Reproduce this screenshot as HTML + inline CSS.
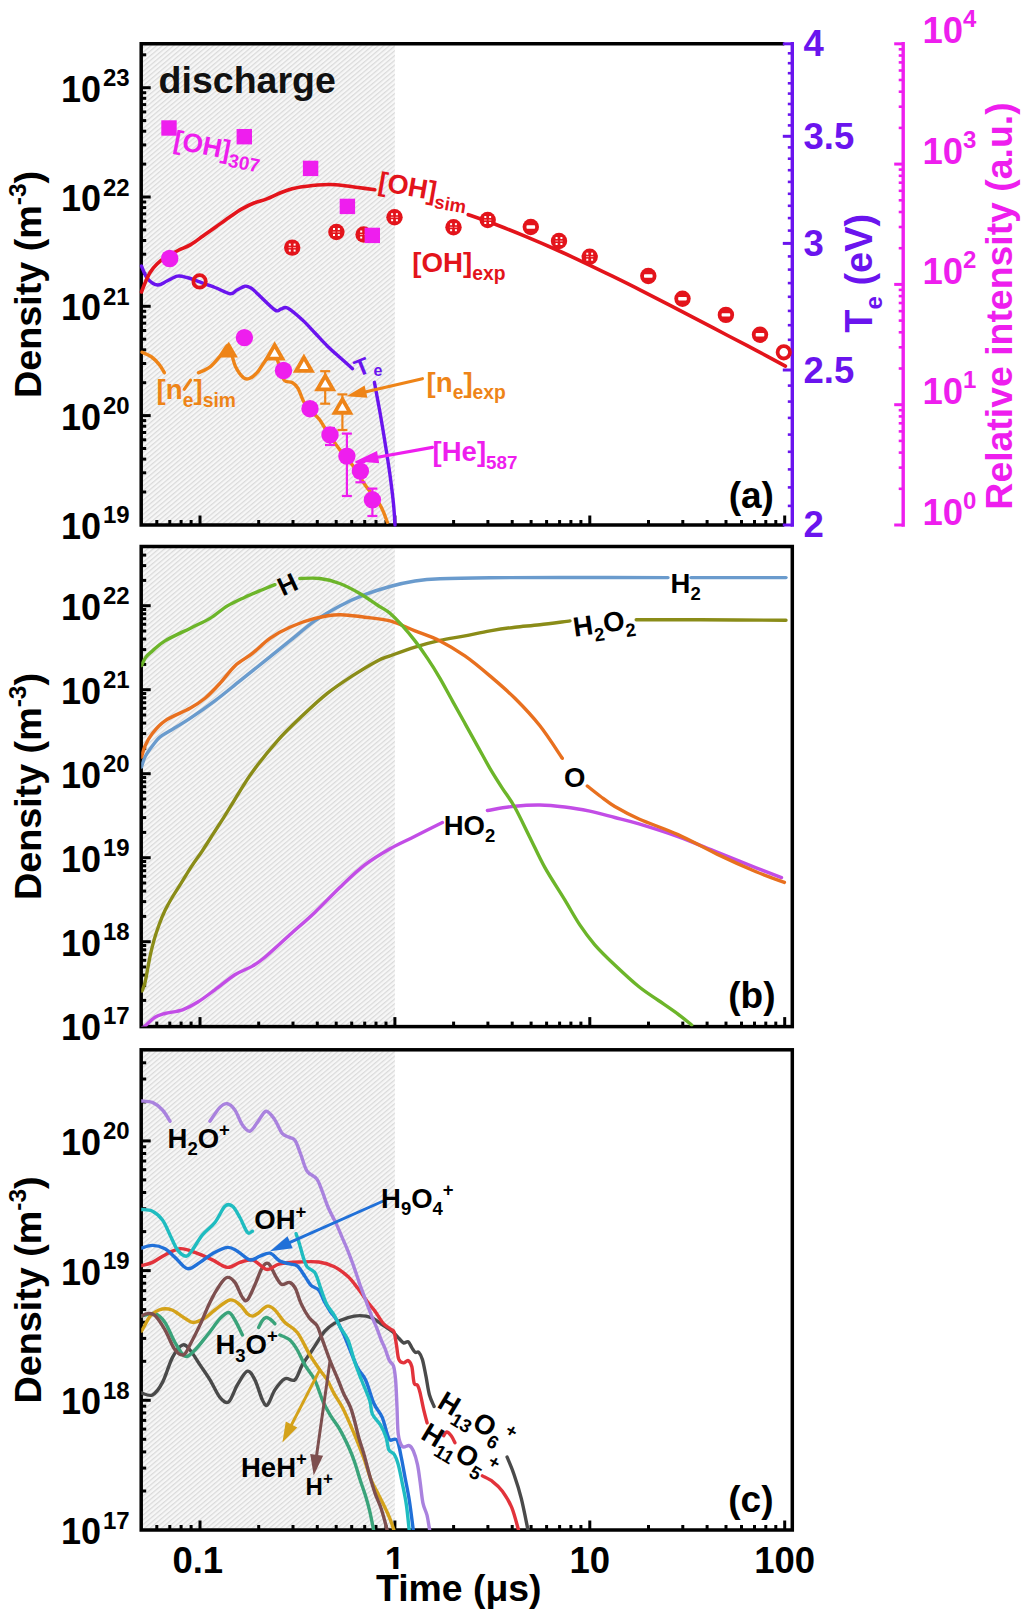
<!DOCTYPE html>
<html><head><meta charset="utf-8"><style>html,body{margin:0;padding:0;background:#fff;}svg{display:block;}</style></head>
<body><svg width="1025" height="1616" viewBox="0 0 1025 1616">
<rect x="0" y="0" width="1025" height="1616" fill="#fff"/>
<defs>
<pattern id="hatch" patternUnits="userSpaceOnUse" width="3.65" height="3.65" patternTransform="rotate(-40)">
<rect x="0" y="0" width="3.65" height="3.65" fill="#f7f7f7"/>
<rect x="0" y="0" width="3.65" height="1.25" fill="#dadada"/>
</pattern>
</defs>
<rect x="141.2" y="43.8" width="253.7" height="481.2" fill="url(#hatch)"/>
<rect x="141.2" y="546.5" width="253.7" height="480.1" fill="url(#hatch)"/>
<rect x="141.2" y="1049.8" width="253.7" height="480.2" fill="url(#hatch)"/>
<path d="M784.3,43.8 L141.2,43.8 L141.2,525.0 L784.3,525.0" fill="none" stroke="#000" stroke-width="3.5"/>
<line x1="156.8" y1="525.0" x2="156.8" y2="520.0" stroke="#000" stroke-width="3.0" stroke-linecap="butt"/>
<line x1="169.8" y1="525.0" x2="169.8" y2="520.0" stroke="#000" stroke-width="3.0" stroke-linecap="butt"/>
<line x1="181.1" y1="525.0" x2="181.1" y2="520.0" stroke="#000" stroke-width="3.0" stroke-linecap="butt"/>
<line x1="191.1" y1="525.0" x2="191.1" y2="520.0" stroke="#000" stroke-width="3.0" stroke-linecap="butt"/>
<line x1="200.0" y1="525.0" x2="200.0" y2="515.5" stroke="#000" stroke-width="3.0" stroke-linecap="butt"/>
<line x1="258.7" y1="525.0" x2="258.7" y2="520.0" stroke="#000" stroke-width="3.0" stroke-linecap="butt"/>
<line x1="293.0" y1="525.0" x2="293.0" y2="520.0" stroke="#000" stroke-width="3.0" stroke-linecap="butt"/>
<line x1="317.3" y1="525.0" x2="317.3" y2="520.0" stroke="#000" stroke-width="3.0" stroke-linecap="butt"/>
<line x1="336.2" y1="525.0" x2="336.2" y2="520.0" stroke="#000" stroke-width="3.0" stroke-linecap="butt"/>
<line x1="351.7" y1="525.0" x2="351.7" y2="520.0" stroke="#000" stroke-width="3.0" stroke-linecap="butt"/>
<line x1="364.7" y1="525.0" x2="364.7" y2="520.0" stroke="#000" stroke-width="3.0" stroke-linecap="butt"/>
<line x1="376.0" y1="525.0" x2="376.0" y2="520.0" stroke="#000" stroke-width="3.0" stroke-linecap="butt"/>
<line x1="386.0" y1="525.0" x2="386.0" y2="520.0" stroke="#000" stroke-width="3.0" stroke-linecap="butt"/>
<line x1="394.9" y1="525.0" x2="394.9" y2="515.5" stroke="#000" stroke-width="3.0" stroke-linecap="butt"/>
<line x1="453.6" y1="525.0" x2="453.6" y2="520.0" stroke="#000" stroke-width="3.0" stroke-linecap="butt"/>
<line x1="487.9" y1="525.0" x2="487.9" y2="520.0" stroke="#000" stroke-width="3.0" stroke-linecap="butt"/>
<line x1="512.2" y1="525.0" x2="512.2" y2="520.0" stroke="#000" stroke-width="3.0" stroke-linecap="butt"/>
<line x1="531.1" y1="525.0" x2="531.1" y2="520.0" stroke="#000" stroke-width="3.0" stroke-linecap="butt"/>
<line x1="546.6" y1="525.0" x2="546.6" y2="520.0" stroke="#000" stroke-width="3.0" stroke-linecap="butt"/>
<line x1="559.6" y1="525.0" x2="559.6" y2="520.0" stroke="#000" stroke-width="3.0" stroke-linecap="butt"/>
<line x1="570.9" y1="525.0" x2="570.9" y2="520.0" stroke="#000" stroke-width="3.0" stroke-linecap="butt"/>
<line x1="580.9" y1="525.0" x2="580.9" y2="520.0" stroke="#000" stroke-width="3.0" stroke-linecap="butt"/>
<line x1="589.8" y1="525.0" x2="589.8" y2="515.5" stroke="#000" stroke-width="3.0" stroke-linecap="butt"/>
<line x1="648.5" y1="525.0" x2="648.5" y2="520.0" stroke="#000" stroke-width="3.0" stroke-linecap="butt"/>
<line x1="682.8" y1="525.0" x2="682.8" y2="520.0" stroke="#000" stroke-width="3.0" stroke-linecap="butt"/>
<line x1="707.1" y1="525.0" x2="707.1" y2="520.0" stroke="#000" stroke-width="3.0" stroke-linecap="butt"/>
<line x1="726.0" y1="525.0" x2="726.0" y2="520.0" stroke="#000" stroke-width="3.0" stroke-linecap="butt"/>
<line x1="741.5" y1="525.0" x2="741.5" y2="520.0" stroke="#000" stroke-width="3.0" stroke-linecap="butt"/>
<line x1="754.5" y1="525.0" x2="754.5" y2="520.0" stroke="#000" stroke-width="3.0" stroke-linecap="butt"/>
<line x1="765.8" y1="525.0" x2="765.8" y2="520.0" stroke="#000" stroke-width="3.0" stroke-linecap="butt"/>
<line x1="775.8" y1="525.0" x2="775.8" y2="520.0" stroke="#000" stroke-width="3.0" stroke-linecap="butt"/>
<line x1="784.7" y1="525.0" x2="784.7" y2="515.5" stroke="#000" stroke-width="3.0" stroke-linecap="butt"/>
<line x1="141.2" y1="492.0" x2="146.2" y2="492.0" stroke="#000" stroke-width="3.0" stroke-linecap="butt"/>
<line x1="141.2" y1="472.8" x2="146.2" y2="472.8" stroke="#000" stroke-width="3.0" stroke-linecap="butt"/>
<line x1="141.2" y1="459.1" x2="146.2" y2="459.1" stroke="#000" stroke-width="3.0" stroke-linecap="butt"/>
<line x1="141.2" y1="448.5" x2="146.2" y2="448.5" stroke="#000" stroke-width="3.0" stroke-linecap="butt"/>
<line x1="141.2" y1="439.8" x2="146.2" y2="439.8" stroke="#000" stroke-width="3.0" stroke-linecap="butt"/>
<line x1="141.2" y1="432.5" x2="146.2" y2="432.5" stroke="#000" stroke-width="3.0" stroke-linecap="butt"/>
<line x1="141.2" y1="426.2" x2="146.2" y2="426.2" stroke="#000" stroke-width="3.0" stroke-linecap="butt"/>
<line x1="141.2" y1="420.6" x2="146.2" y2="420.6" stroke="#000" stroke-width="3.0" stroke-linecap="butt"/>
<line x1="141.2" y1="415.6" x2="150.7" y2="415.6" stroke="#000" stroke-width="3.0" stroke-linecap="butt"/>
<line x1="141.2" y1="382.7" x2="146.2" y2="382.7" stroke="#000" stroke-width="3.0" stroke-linecap="butt"/>
<line x1="141.2" y1="363.5" x2="146.2" y2="363.5" stroke="#000" stroke-width="3.0" stroke-linecap="butt"/>
<line x1="141.2" y1="349.8" x2="146.2" y2="349.8" stroke="#000" stroke-width="3.0" stroke-linecap="butt"/>
<line x1="141.2" y1="339.2" x2="146.2" y2="339.2" stroke="#000" stroke-width="3.0" stroke-linecap="butt"/>
<line x1="141.2" y1="330.5" x2="146.2" y2="330.5" stroke="#000" stroke-width="3.0" stroke-linecap="butt"/>
<line x1="141.2" y1="323.2" x2="146.2" y2="323.2" stroke="#000" stroke-width="3.0" stroke-linecap="butt"/>
<line x1="141.2" y1="316.9" x2="146.2" y2="316.9" stroke="#000" stroke-width="3.0" stroke-linecap="butt"/>
<line x1="141.2" y1="311.3" x2="146.2" y2="311.3" stroke="#000" stroke-width="3.0" stroke-linecap="butt"/>
<line x1="141.2" y1="306.3" x2="150.7" y2="306.3" stroke="#000" stroke-width="3.0" stroke-linecap="butt"/>
<line x1="141.2" y1="273.4" x2="146.2" y2="273.4" stroke="#000" stroke-width="3.0" stroke-linecap="butt"/>
<line x1="141.2" y1="254.2" x2="146.2" y2="254.2" stroke="#000" stroke-width="3.0" stroke-linecap="butt"/>
<line x1="141.2" y1="240.5" x2="146.2" y2="240.5" stroke="#000" stroke-width="3.0" stroke-linecap="butt"/>
<line x1="141.2" y1="229.9" x2="146.2" y2="229.9" stroke="#000" stroke-width="3.0" stroke-linecap="butt"/>
<line x1="141.2" y1="221.2" x2="146.2" y2="221.2" stroke="#000" stroke-width="3.0" stroke-linecap="butt"/>
<line x1="141.2" y1="213.9" x2="146.2" y2="213.9" stroke="#000" stroke-width="3.0" stroke-linecap="butt"/>
<line x1="141.2" y1="207.6" x2="146.2" y2="207.6" stroke="#000" stroke-width="3.0" stroke-linecap="butt"/>
<line x1="141.2" y1="202.0" x2="146.2" y2="202.0" stroke="#000" stroke-width="3.0" stroke-linecap="butt"/>
<line x1="141.2" y1="197.0" x2="150.7" y2="197.0" stroke="#000" stroke-width="3.0" stroke-linecap="butt"/>
<line x1="141.2" y1="164.1" x2="146.2" y2="164.1" stroke="#000" stroke-width="3.0" stroke-linecap="butt"/>
<line x1="141.2" y1="144.9" x2="146.2" y2="144.9" stroke="#000" stroke-width="3.0" stroke-linecap="butt"/>
<line x1="141.2" y1="131.2" x2="146.2" y2="131.2" stroke="#000" stroke-width="3.0" stroke-linecap="butt"/>
<line x1="141.2" y1="120.6" x2="146.2" y2="120.6" stroke="#000" stroke-width="3.0" stroke-linecap="butt"/>
<line x1="141.2" y1="111.9" x2="146.2" y2="111.9" stroke="#000" stroke-width="3.0" stroke-linecap="butt"/>
<line x1="141.2" y1="104.6" x2="146.2" y2="104.6" stroke="#000" stroke-width="3.0" stroke-linecap="butt"/>
<line x1="141.2" y1="98.3" x2="146.2" y2="98.3" stroke="#000" stroke-width="3.0" stroke-linecap="butt"/>
<line x1="141.2" y1="92.7" x2="146.2" y2="92.7" stroke="#000" stroke-width="3.0" stroke-linecap="butt"/>
<line x1="141.2" y1="87.7" x2="150.7" y2="87.7" stroke="#000" stroke-width="3.0" stroke-linecap="butt"/>
<line x1="141.2" y1="54.8" x2="146.2" y2="54.8" stroke="#000" stroke-width="3.0" stroke-linecap="butt"/>
<line x1="792.3" y1="42.1" x2="792.3" y2="526.7" stroke="#6a14ee" stroke-width="3.4" stroke-linecap="butt"/>
<line x1="792.3" y1="43.8" x2="782.8" y2="43.8" stroke="#6a14ee" stroke-width="3.0" stroke-linecap="butt"/>
<line x1="792.3" y1="136.3" x2="782.8" y2="136.3" stroke="#6a14ee" stroke-width="3.0" stroke-linecap="butt"/>
<line x1="792.3" y1="243.4" x2="782.8" y2="243.4" stroke="#6a14ee" stroke-width="3.0" stroke-linecap="butt"/>
<line x1="792.3" y1="370.0" x2="782.8" y2="370.0" stroke="#6a14ee" stroke-width="3.0" stroke-linecap="butt"/>
<line x1="792.3" y1="525.0" x2="782.8" y2="525.0" stroke="#6a14ee" stroke-width="3.0" stroke-linecap="butt"/>
<line x1="792.3" y1="53.3" x2="787.8" y2="53.3" stroke="#6a14ee" stroke-width="2.6" stroke-linecap="butt"/>
<line x1="792.3" y1="63.2" x2="787.8" y2="63.2" stroke="#6a14ee" stroke-width="2.6" stroke-linecap="butt"/>
<line x1="792.3" y1="73.2" x2="787.8" y2="73.2" stroke="#6a14ee" stroke-width="2.6" stroke-linecap="butt"/>
<line x1="792.3" y1="83.3" x2="787.8" y2="83.3" stroke="#6a14ee" stroke-width="2.6" stroke-linecap="butt"/>
<line x1="792.3" y1="93.6" x2="787.8" y2="93.6" stroke="#6a14ee" stroke-width="2.6" stroke-linecap="butt"/>
<line x1="792.3" y1="104.0" x2="787.8" y2="104.0" stroke="#6a14ee" stroke-width="2.6" stroke-linecap="butt"/>
<line x1="792.3" y1="114.6" x2="787.8" y2="114.6" stroke="#6a14ee" stroke-width="2.6" stroke-linecap="butt"/>
<line x1="792.3" y1="125.4" x2="787.8" y2="125.4" stroke="#6a14ee" stroke-width="2.6" stroke-linecap="butt"/>
<line x1="792.3" y1="147.4" x2="787.8" y2="147.4" stroke="#6a14ee" stroke-width="2.6" stroke-linecap="butt"/>
<line x1="792.3" y1="158.7" x2="787.8" y2="158.7" stroke="#6a14ee" stroke-width="2.6" stroke-linecap="butt"/>
<line x1="792.3" y1="170.2" x2="787.8" y2="170.2" stroke="#6a14ee" stroke-width="2.6" stroke-linecap="butt"/>
<line x1="792.3" y1="181.9" x2="787.8" y2="181.9" stroke="#6a14ee" stroke-width="2.6" stroke-linecap="butt"/>
<line x1="792.3" y1="193.8" x2="787.8" y2="193.8" stroke="#6a14ee" stroke-width="2.6" stroke-linecap="butt"/>
<line x1="792.3" y1="205.8" x2="787.8" y2="205.8" stroke="#6a14ee" stroke-width="2.6" stroke-linecap="butt"/>
<line x1="792.3" y1="218.1" x2="787.8" y2="218.1" stroke="#6a14ee" stroke-width="2.6" stroke-linecap="butt"/>
<line x1="792.3" y1="230.6" x2="787.8" y2="230.6" stroke="#6a14ee" stroke-width="2.6" stroke-linecap="butt"/>
<line x1="792.3" y1="256.4" x2="787.8" y2="256.4" stroke="#6a14ee" stroke-width="2.6" stroke-linecap="butt"/>
<line x1="792.3" y1="269.6" x2="787.8" y2="269.6" stroke="#6a14ee" stroke-width="2.6" stroke-linecap="butt"/>
<line x1="792.3" y1="283.1" x2="787.8" y2="283.1" stroke="#6a14ee" stroke-width="2.6" stroke-linecap="butt"/>
<line x1="792.3" y1="296.8" x2="787.8" y2="296.8" stroke="#6a14ee" stroke-width="2.6" stroke-linecap="butt"/>
<line x1="792.3" y1="310.9" x2="787.8" y2="310.9" stroke="#6a14ee" stroke-width="2.6" stroke-linecap="butt"/>
<line x1="792.3" y1="325.2" x2="787.8" y2="325.2" stroke="#6a14ee" stroke-width="2.6" stroke-linecap="butt"/>
<line x1="792.3" y1="339.8" x2="787.8" y2="339.8" stroke="#6a14ee" stroke-width="2.6" stroke-linecap="butt"/>
<line x1="792.3" y1="354.7" x2="787.8" y2="354.7" stroke="#6a14ee" stroke-width="2.6" stroke-linecap="butt"/>
<line x1="792.3" y1="385.6" x2="787.8" y2="385.6" stroke="#6a14ee" stroke-width="2.6" stroke-linecap="butt"/>
<line x1="792.3" y1="401.6" x2="787.8" y2="401.6" stroke="#6a14ee" stroke-width="2.6" stroke-linecap="butt"/>
<line x1="792.3" y1="417.9" x2="787.8" y2="417.9" stroke="#6a14ee" stroke-width="2.6" stroke-linecap="butt"/>
<line x1="792.3" y1="434.6" x2="787.8" y2="434.6" stroke="#6a14ee" stroke-width="2.6" stroke-linecap="butt"/>
<line x1="792.3" y1="451.8" x2="787.8" y2="451.8" stroke="#6a14ee" stroke-width="2.6" stroke-linecap="butt"/>
<line x1="792.3" y1="469.4" x2="787.8" y2="469.4" stroke="#6a14ee" stroke-width="2.6" stroke-linecap="butt"/>
<line x1="792.3" y1="487.4" x2="787.8" y2="487.4" stroke="#6a14ee" stroke-width="2.6" stroke-linecap="butt"/>
<line x1="792.3" y1="505.9" x2="787.8" y2="505.9" stroke="#6a14ee" stroke-width="2.6" stroke-linecap="butt"/>
<line x1="903.2" y1="42.1" x2="903.2" y2="526.7" stroke="#ee1eee" stroke-width="3.4" stroke-linecap="butt"/>
<line x1="903.2" y1="525.0" x2="894.2" y2="525.0" stroke="#ee1eee" stroke-width="3.0" stroke-linecap="butt"/>
<line x1="903.2" y1="488.8" x2="898.7" y2="488.8" stroke="#ee1eee" stroke-width="2.6" stroke-linecap="butt"/>
<line x1="903.2" y1="467.6" x2="898.7" y2="467.6" stroke="#ee1eee" stroke-width="2.6" stroke-linecap="butt"/>
<line x1="903.2" y1="452.6" x2="898.7" y2="452.6" stroke="#ee1eee" stroke-width="2.6" stroke-linecap="butt"/>
<line x1="903.2" y1="440.9" x2="898.7" y2="440.9" stroke="#ee1eee" stroke-width="2.6" stroke-linecap="butt"/>
<line x1="903.2" y1="431.4" x2="898.7" y2="431.4" stroke="#ee1eee" stroke-width="2.6" stroke-linecap="butt"/>
<line x1="903.2" y1="423.3" x2="898.7" y2="423.3" stroke="#ee1eee" stroke-width="2.6" stroke-linecap="butt"/>
<line x1="903.2" y1="416.4" x2="898.7" y2="416.4" stroke="#ee1eee" stroke-width="2.6" stroke-linecap="butt"/>
<line x1="903.2" y1="410.2" x2="898.7" y2="410.2" stroke="#ee1eee" stroke-width="2.6" stroke-linecap="butt"/>
<line x1="903.2" y1="404.7" x2="894.2" y2="404.7" stroke="#ee1eee" stroke-width="3.0" stroke-linecap="butt"/>
<line x1="903.2" y1="368.5" x2="898.7" y2="368.5" stroke="#ee1eee" stroke-width="2.6" stroke-linecap="butt"/>
<line x1="903.2" y1="347.3" x2="898.7" y2="347.3" stroke="#ee1eee" stroke-width="2.6" stroke-linecap="butt"/>
<line x1="903.2" y1="332.3" x2="898.7" y2="332.3" stroke="#ee1eee" stroke-width="2.6" stroke-linecap="butt"/>
<line x1="903.2" y1="320.6" x2="898.7" y2="320.6" stroke="#ee1eee" stroke-width="2.6" stroke-linecap="butt"/>
<line x1="903.2" y1="311.1" x2="898.7" y2="311.1" stroke="#ee1eee" stroke-width="2.6" stroke-linecap="butt"/>
<line x1="903.2" y1="303.0" x2="898.7" y2="303.0" stroke="#ee1eee" stroke-width="2.6" stroke-linecap="butt"/>
<line x1="903.2" y1="296.1" x2="898.7" y2="296.1" stroke="#ee1eee" stroke-width="2.6" stroke-linecap="butt"/>
<line x1="903.2" y1="289.9" x2="898.7" y2="289.9" stroke="#ee1eee" stroke-width="2.6" stroke-linecap="butt"/>
<line x1="903.2" y1="284.4" x2="894.2" y2="284.4" stroke="#ee1eee" stroke-width="3.0" stroke-linecap="butt"/>
<line x1="903.2" y1="248.2" x2="898.7" y2="248.2" stroke="#ee1eee" stroke-width="2.6" stroke-linecap="butt"/>
<line x1="903.2" y1="227.0" x2="898.7" y2="227.0" stroke="#ee1eee" stroke-width="2.6" stroke-linecap="butt"/>
<line x1="903.2" y1="212.0" x2="898.7" y2="212.0" stroke="#ee1eee" stroke-width="2.6" stroke-linecap="butt"/>
<line x1="903.2" y1="200.3" x2="898.7" y2="200.3" stroke="#ee1eee" stroke-width="2.6" stroke-linecap="butt"/>
<line x1="903.2" y1="190.8" x2="898.7" y2="190.8" stroke="#ee1eee" stroke-width="2.6" stroke-linecap="butt"/>
<line x1="903.2" y1="182.7" x2="898.7" y2="182.7" stroke="#ee1eee" stroke-width="2.6" stroke-linecap="butt"/>
<line x1="903.2" y1="175.8" x2="898.7" y2="175.8" stroke="#ee1eee" stroke-width="2.6" stroke-linecap="butt"/>
<line x1="903.2" y1="169.6" x2="898.7" y2="169.6" stroke="#ee1eee" stroke-width="2.6" stroke-linecap="butt"/>
<line x1="903.2" y1="164.1" x2="894.2" y2="164.1" stroke="#ee1eee" stroke-width="3.0" stroke-linecap="butt"/>
<line x1="903.2" y1="127.9" x2="898.7" y2="127.9" stroke="#ee1eee" stroke-width="2.6" stroke-linecap="butt"/>
<line x1="903.2" y1="106.7" x2="898.7" y2="106.7" stroke="#ee1eee" stroke-width="2.6" stroke-linecap="butt"/>
<line x1="903.2" y1="91.7" x2="898.7" y2="91.7" stroke="#ee1eee" stroke-width="2.6" stroke-linecap="butt"/>
<line x1="903.2" y1="80.0" x2="898.7" y2="80.0" stroke="#ee1eee" stroke-width="2.6" stroke-linecap="butt"/>
<line x1="903.2" y1="70.5" x2="898.7" y2="70.5" stroke="#ee1eee" stroke-width="2.6" stroke-linecap="butt"/>
<line x1="903.2" y1="62.4" x2="898.7" y2="62.4" stroke="#ee1eee" stroke-width="2.6" stroke-linecap="butt"/>
<line x1="903.2" y1="55.5" x2="898.7" y2="55.5" stroke="#ee1eee" stroke-width="2.6" stroke-linecap="butt"/>
<line x1="903.2" y1="49.3" x2="898.7" y2="49.3" stroke="#ee1eee" stroke-width="2.6" stroke-linecap="butt"/>
<line x1="903.2" y1="43.8" x2="894.2" y2="43.8" stroke="#ee1eee" stroke-width="3.0" stroke-linecap="butt"/>
<text x="60.9" y="538.9" font-size="36" font-family="Liberation Sans, sans-serif" font-weight="bold" fill="#000">10</text>
<text x="102.9" y="523.4" font-size="24" font-family="Liberation Sans, sans-serif" font-weight="bold" fill="#000">19</text>
<text x="60.9" y="429.6" font-size="36" font-family="Liberation Sans, sans-serif" font-weight="bold" fill="#000">10</text>
<text x="102.9" y="414.1" font-size="24" font-family="Liberation Sans, sans-serif" font-weight="bold" fill="#000">20</text>
<text x="60.9" y="320.3" font-size="36" font-family="Liberation Sans, sans-serif" font-weight="bold" fill="#000">10</text>
<text x="102.9" y="304.8" font-size="24" font-family="Liberation Sans, sans-serif" font-weight="bold" fill="#000">21</text>
<text x="60.9" y="211.0" font-size="36" font-family="Liberation Sans, sans-serif" font-weight="bold" fill="#000">10</text>
<text x="102.9" y="195.5" font-size="24" font-family="Liberation Sans, sans-serif" font-weight="bold" fill="#000">22</text>
<text x="60.9" y="101.7" font-size="36" font-family="Liberation Sans, sans-serif" font-weight="bold" fill="#000">10</text>
<text x="102.9" y="86.2" font-size="24" font-family="Liberation Sans, sans-serif" font-weight="bold" fill="#000">23</text>
<text x="803.5" y="56.1" font-size="36.5" fill="#6a14ee" text-anchor="start" font-family="Liberation Sans, sans-serif" font-weight="bold" >4</text>
<text x="803.5" y="148.8" font-size="36.5" fill="#6a14ee" text-anchor="start" font-family="Liberation Sans, sans-serif" font-weight="bold" >3.5</text>
<text x="803.5" y="255.9" font-size="36.5" fill="#6a14ee" text-anchor="start" font-family="Liberation Sans, sans-serif" font-weight="bold" >3</text>
<text x="803.5" y="382.5" font-size="36.5" fill="#6a14ee" text-anchor="start" font-family="Liberation Sans, sans-serif" font-weight="bold" >2.5</text>
<text x="803.5" y="537.4" font-size="36.5" fill="#6a14ee" text-anchor="start" font-family="Liberation Sans, sans-serif" font-weight="bold" >2</text>
<text x="922.5" y="524.5" font-size="36.5" font-family="Liberation Sans, sans-serif" font-weight="bold" fill="#ee1eee">10<tspan font-size="24" dy="-16">0</tspan></text>
<text x="922.5" y="404.2" font-size="36.5" font-family="Liberation Sans, sans-serif" font-weight="bold" fill="#ee1eee">10<tspan font-size="24" dy="-16">1</tspan></text>
<text x="922.5" y="283.9" font-size="36.5" font-family="Liberation Sans, sans-serif" font-weight="bold" fill="#ee1eee">10<tspan font-size="24" dy="-16">2</tspan></text>
<text x="922.5" y="163.6" font-size="36.5" font-family="Liberation Sans, sans-serif" font-weight="bold" fill="#ee1eee">10<tspan font-size="24" dy="-16">3</tspan></text>
<text x="922.5" y="43.3" font-size="36.5" font-family="Liberation Sans, sans-serif" font-weight="bold" fill="#ee1eee">10<tspan font-size="24" dy="-16">4</tspan></text>
<text transform="translate(872.4,273.2) rotate(-90)" text-anchor="middle" font-size="38" font-family="Liberation Sans, sans-serif" font-weight="bold" fill="#6a14ee">T<tspan font-size="24" dy="9.5">e</tspan><tspan dy="-9.5"> (eV)</tspan></text>
<text transform="translate(1012,306) rotate(-90)" text-anchor="middle" font-size="37.4" font-family="Liberation Sans, sans-serif" font-weight="bold" fill="#ee1eee">Relative intensity (a.u.)</text>
<text x="158.6" y="92.6" font-family="Liberation Sans, sans-serif" font-weight="bold" fill="#111"><tspan font-size="37.5">discharge</tspan></text>
<path d="M141.5,266.0 C142.5,268.1 144.8,275.5 147.5,278.7 C150.2,281.9 154.2,284.6 157.5,285.0 C160.8,285.4 163.7,282.5 167.0,281.0 C170.3,279.5 174.2,276.8 177.5,276.2 C180.8,275.6 183.7,276.7 187.0,277.5 C190.3,278.3 192.8,279.5 197.5,281.2 C202.2,282.9 209.6,285.4 215.0,287.5 C220.4,289.6 226.3,293.3 230.0,293.7 C233.7,294.1 234.5,291.2 237.0,290.0 C239.5,288.8 242.7,286.5 245.0,286.2 C247.3,285.9 248.9,286.8 251.0,288.0 C253.1,289.2 253.5,290.0 257.5,293.7 C261.5,297.4 271.1,307.4 275.0,310.0 C278.9,312.6 278.9,309.3 281.0,309.0 C283.1,308.7 283.9,306.2 287.5,308.0 C291.1,309.8 297.9,315.8 302.5,320.0 C307.1,324.2 310.8,328.6 315.0,333.0 C319.2,337.4 323.3,342.1 327.5,346.2 C331.7,350.3 335.8,353.8 340.0,357.5 C344.2,361.2 350.4,366.8 352.5,368.7" fill="none" stroke="#6a14ee" stroke-width="3.4" stroke-linejoin="round" stroke-linecap="round" />
<path d="M374.4,382.3 C375.3,387.3 378.2,402.5 380.0,412.5 C381.8,422.5 383.3,432.0 385.0,442.4 C386.7,452.8 388.6,464.6 390.0,475.0 C391.4,485.4 392.8,496.7 393.6,505.0 C394.4,513.3 394.8,521.7 395.0,525.0" fill="none" stroke="#6a14ee" stroke-width="3.4" stroke-linejoin="round" stroke-linecap="round" />
<path d="M141.5,292.0 C142.1,290.5 143.6,286.2 145.0,283.0 C146.4,279.8 148.1,275.7 150.1,272.5 C152.1,269.3 154.4,266.5 157.0,264.0 C159.6,261.5 161.9,259.6 165.4,257.3 C168.9,255.1 173.8,252.6 178.0,250.5 C182.2,248.4 186.5,247.0 190.7,244.6 C194.9,242.2 198.8,239.0 203.0,236.0 C207.2,233.0 211.8,229.9 216.1,226.8 C220.4,223.7 224.8,220.4 229.0,217.5 C233.2,214.6 237.3,211.5 241.5,209.1 C245.7,206.7 249.8,204.7 254.0,203.0 C258.2,201.3 262.5,200.6 266.8,198.9 C271.1,197.2 275.8,194.7 280.0,193.0 C284.2,191.3 288.0,189.9 292.2,188.8 C296.4,187.7 300.8,187.1 305.0,186.5 C309.2,185.9 313.4,185.3 317.6,185.0 C321.8,184.7 325.8,184.4 330.0,184.5 C334.2,184.6 338.2,185.0 342.9,185.5 C347.6,186.0 352.7,186.8 358.0,187.5 C363.3,188.2 372.0,189.4 374.8,189.8" fill="none" stroke="#e3141b" stroke-width="3.6" stroke-linejoin="round" stroke-linecap="round" />
<path d="M468.3,214.7 C473.1,216.4 487.5,221.3 497.1,225.0 C506.7,228.7 516.4,232.6 526.0,236.6 C535.6,240.6 545.2,244.7 554.8,249.0 C564.4,253.3 574.0,257.8 583.6,262.3 C593.2,266.8 602.8,271.5 612.4,276.2 C622.0,280.9 631.7,285.7 641.3,290.6 C650.9,295.5 660.5,300.4 670.1,305.4 C679.7,310.4 689.3,315.4 698.9,320.4 C708.5,325.4 718.1,330.5 727.7,335.5 C737.3,340.5 747.0,345.5 756.6,350.6 C766.2,355.7 780.6,363.6 785.4,366.2" fill="none" stroke="#e3141b" stroke-width="3.6" stroke-linejoin="round" stroke-linecap="round" />
<path d="M142.0,352.2 C143.6,353.0 148.8,354.9 151.7,357.0 C154.6,359.1 157.4,362.3 159.5,364.9 C161.6,367.5 163.6,371.4 164.4,372.7" fill="none" stroke="#ee8418" stroke-width="3.4" stroke-linejoin="round" stroke-linecap="round" />
<path d="M198.5,372.7 C200.4,371.7 206.6,369.6 210.2,366.8 C213.8,364.0 217.1,359.7 220.0,356.1 C222.9,352.5 226.0,346.1 227.8,345.4 C229.6,344.7 229.7,348.4 231.0,352.0 C232.3,355.6 233.5,362.5 235.6,366.8 C237.7,371.1 241.1,375.7 243.4,377.6 C245.7,379.6 247.0,379.3 249.3,378.5 C251.6,377.7 254.2,375.9 257.1,372.7 C260.0,369.4 263.9,361.9 266.8,359.0 C269.7,356.1 272.3,353.5 274.6,355.1 C276.9,356.7 278.9,364.6 280.5,368.8 C282.1,373.0 282.4,378.2 284.4,380.5 C286.3,382.8 289.9,381.1 292.2,382.4 C294.5,383.7 296.1,385.0 298.0,388.3 C299.9,391.6 301.9,398.4 303.9,402.0 C305.9,405.6 307.2,406.9 309.8,409.8 C312.4,412.7 316.6,415.7 319.5,419.5 C322.4,423.3 324.1,427.3 327.5,432.4 C330.9,437.5 335.9,444.6 340.0,450.0 C344.1,455.4 348.2,459.1 352.4,464.9 C356.6,470.7 360.4,478.1 365.0,484.8 C369.6,491.5 376.3,498.6 380.0,504.8 C383.7,511.1 386.2,519.4 387.4,522.3" fill="none" stroke="#ee8418" stroke-width="3.4" stroke-linejoin="round" stroke-linecap="round" />
<line x1="184.2" y1="389.3" x2="190.6" y2="380.2" stroke="#ee8418" stroke-width="3.2" stroke-linecap="round"/>
<circle cx="199.6" cy="281.4" r="6.2" fill="none" stroke="#e3141b" stroke-width="3.8"/>
<circle cx="292.2" cy="247.6" r="8.2" fill="#e3141b"/>
<rect x="288.8" y="243.6" width="2.0" height="2.0" fill="#fff"/>
<rect x="288.8" y="249.6" width="2.0" height="2.0" fill="#fff"/>
<rect x="288.5" y="247.2" width="2.8" height="0.9" fill="#fbb"/>
<rect x="293.6" y="243.6" width="2.0" height="2.0" fill="#fff"/>
<rect x="293.6" y="249.6" width="2.0" height="2.0" fill="#fff"/>
<rect x="293.1" y="247.2" width="2.8" height="0.9" fill="#fbb"/>
<circle cx="336.4" cy="232" r="8.2" fill="#e3141b"/>
<rect x="333.0" y="228.0" width="2.0" height="2.0" fill="#fff"/>
<rect x="333.0" y="234.0" width="2.0" height="2.0" fill="#fff"/>
<rect x="332.7" y="231.6" width="2.8" height="0.9" fill="#fbb"/>
<rect x="337.8" y="228.0" width="2.0" height="2.0" fill="#fff"/>
<rect x="337.8" y="234.0" width="2.0" height="2.0" fill="#fff"/>
<rect x="337.3" y="231.6" width="2.8" height="0.9" fill="#fbb"/>
<circle cx="363.6" cy="234.5" r="8.2" fill="#e3141b"/>
<rect x="360.2" y="230.5" width="2.0" height="2.0" fill="#fff"/>
<rect x="360.2" y="236.5" width="2.0" height="2.0" fill="#fff"/>
<rect x="359.9" y="234.1" width="2.8" height="0.9" fill="#fbb"/>
<rect x="365.0" y="230.5" width="2.0" height="2.0" fill="#fff"/>
<rect x="365.0" y="236.5" width="2.0" height="2.0" fill="#fff"/>
<rect x="364.5" y="234.1" width="2.8" height="0.9" fill="#fbb"/>
<circle cx="394.5" cy="217.2" r="8.2" fill="#e3141b"/>
<rect x="391.1" y="213.2" width="2.0" height="2.0" fill="#fff"/>
<rect x="391.1" y="219.2" width="2.0" height="2.0" fill="#fff"/>
<rect x="390.8" y="216.8" width="2.8" height="0.9" fill="#fbb"/>
<rect x="395.9" y="213.2" width="2.0" height="2.0" fill="#fff"/>
<rect x="395.9" y="219.2" width="2.0" height="2.0" fill="#fff"/>
<rect x="395.4" y="216.8" width="2.8" height="0.9" fill="#fbb"/>
<circle cx="453.5" cy="227.2" r="8.2" fill="#e3141b"/>
<rect x="450.1" y="223.2" width="2.0" height="2.0" fill="#fff"/>
<rect x="450.1" y="229.2" width="2.0" height="2.0" fill="#fff"/>
<rect x="449.8" y="226.8" width="2.8" height="0.9" fill="#fbb"/>
<rect x="454.9" y="223.2" width="2.0" height="2.0" fill="#fff"/>
<rect x="454.9" y="229.2" width="2.0" height="2.0" fill="#fff"/>
<rect x="454.4" y="226.8" width="2.8" height="0.9" fill="#fbb"/>
<circle cx="487.7" cy="220" r="8.2" fill="#e3141b"/>
<rect x="484.3" y="216.0" width="2.0" height="2.0" fill="#fff"/>
<rect x="484.3" y="222.0" width="2.0" height="2.0" fill="#fff"/>
<rect x="484.0" y="219.6" width="2.8" height="0.9" fill="#fbb"/>
<rect x="489.1" y="216.0" width="2.0" height="2.0" fill="#fff"/>
<rect x="489.1" y="222.0" width="2.0" height="2.0" fill="#fff"/>
<rect x="488.6" y="219.6" width="2.8" height="0.9" fill="#fbb"/>
<circle cx="530.8" cy="227" r="8.2" fill="#e3141b"/>
<rect x="526.5" y="225.3" width="8.6" height="3.4" rx="0.8" fill="#fff"/>
<circle cx="559" cy="241" r="8.2" fill="#e3141b"/>
<rect x="555.6" y="237.0" width="2.0" height="2.0" fill="#fff"/>
<rect x="555.6" y="243.0" width="2.0" height="2.0" fill="#fff"/>
<rect x="555.3" y="240.6" width="2.8" height="0.9" fill="#fbb"/>
<rect x="560.4" y="237.0" width="2.0" height="2.0" fill="#fff"/>
<rect x="560.4" y="243.0" width="2.0" height="2.0" fill="#fff"/>
<rect x="559.9" y="240.6" width="2.8" height="0.9" fill="#fbb"/>
<circle cx="589.7" cy="256.7" r="8.2" fill="#e3141b"/>
<rect x="586.3" y="252.7" width="2.0" height="2.0" fill="#fff"/>
<rect x="586.3" y="258.7" width="2.0" height="2.0" fill="#fff"/>
<rect x="586.0" y="256.2" width="2.8" height="0.9" fill="#fbb"/>
<rect x="591.1" y="252.7" width="2.0" height="2.0" fill="#fff"/>
<rect x="591.1" y="258.7" width="2.0" height="2.0" fill="#fff"/>
<rect x="590.6" y="256.2" width="2.8" height="0.9" fill="#fbb"/>
<circle cx="648.3" cy="276" r="8.2" fill="#e3141b"/>
<rect x="644.0" y="274.3" width="8.6" height="3.4" rx="0.8" fill="#fff"/>
<circle cx="682.5" cy="298.7" r="8.2" fill="#e3141b"/>
<rect x="678.2" y="297.0" width="8.6" height="3.4" rx="0.8" fill="#fff"/>
<circle cx="725.9" cy="314.9" r="8.2" fill="#e3141b"/>
<rect x="721.6" y="313.2" width="8.6" height="3.4" rx="0.8" fill="#fff"/>
<circle cx="760" cy="334.8" r="8.2" fill="#e3141b"/>
<rect x="755.7" y="333.1" width="8.6" height="3.4" rx="0.8" fill="#fff"/>
<circle cx="783.8" cy="352.3" r="6.2" fill="none" stroke="#e3141b" stroke-width="3.8"/>
<rect x="161.3" y="120.3" width="15.4" height="15.4" fill="#ee1eee"/>
<rect x="236.6" y="129.0" width="15.4" height="15.4" fill="#ee1eee"/>
<rect x="302.9" y="160.7" width="15.4" height="15.4" fill="#ee1eee"/>
<rect x="339.7" y="198.7" width="15.4" height="15.4" fill="#ee1eee"/>
<rect x="364.6" y="227.7" width="15.4" height="15.4" fill="#ee1eee"/>
<line x1="325.2" y1="371.2" x2="325.2" y2="403.7" stroke="#ee8418" stroke-width="2.2" stroke-linecap="butt"/>
<line x1="320.2" y1="371.2" x2="330.2" y2="371.2" stroke="#ee8418" stroke-width="2.2" stroke-linecap="butt"/>
<line x1="320.2" y1="403.7" x2="330.2" y2="403.7" stroke="#ee8418" stroke-width="2.2" stroke-linecap="butt"/>
<line x1="342.4" y1="394.4" x2="342.4" y2="430.0" stroke="#ee8418" stroke-width="2.2" stroke-linecap="butt"/>
<line x1="337.4" y1="394.4" x2="347.4" y2="394.4" stroke="#ee8418" stroke-width="2.2" stroke-linecap="butt"/>
<line x1="337.4" y1="430.0" x2="347.4" y2="430.0" stroke="#ee8418" stroke-width="2.2" stroke-linecap="butt"/>
<polygon points="228.8,341.7 237.92000000000002,357.54 219.68,357.54" fill="#ee8418"/>
<polygon points="274.6,345.0 282.39000000000004,358.53 266.81,358.53" fill="#fff" stroke="#ee8418" stroke-width="3.8" stroke-linejoin="miter"/>
<polygon points="303.9,357.40000000000003 311.69,370.93 296.10999999999996,370.93" fill="#fff" stroke="#ee8418" stroke-width="3.8" stroke-linejoin="miter"/>
<polygon points="325.2,375.8 332.99,389.33 317.40999999999997,389.33" fill="#fff" stroke="#ee8418" stroke-width="3.8" stroke-linejoin="miter"/>
<polygon points="342.4,399.2 350.19,412.72999999999996 334.60999999999996,412.72999999999996" fill="#fff" stroke="#ee8418" stroke-width="3.8" stroke-linejoin="miter"/>
<line x1="346.9" y1="433.6" x2="346.9" y2="496.0" stroke="#ee1eee" stroke-width="2.2" stroke-linecap="butt"/>
<line x1="341.9" y1="433.6" x2="351.9" y2="433.6" stroke="#ee1eee" stroke-width="2.2" stroke-linecap="butt"/>
<line x1="341.9" y1="496.0" x2="351.9" y2="496.0" stroke="#ee1eee" stroke-width="2.2" stroke-linecap="butt"/>
<line x1="330.0" y1="428.0" x2="330.0" y2="445.0" stroke="#ee1eee" stroke-width="2.2" stroke-linecap="butt"/>
<line x1="325.0" y1="428.0" x2="335.0" y2="428.0" stroke="#ee1eee" stroke-width="2.2" stroke-linecap="butt"/>
<line x1="325.0" y1="445.0" x2="335.0" y2="445.0" stroke="#ee1eee" stroke-width="2.2" stroke-linecap="butt"/>
<line x1="360.4" y1="462.0" x2="360.4" y2="482.3" stroke="#ee1eee" stroke-width="2.2" stroke-linecap="butt"/>
<line x1="355.4" y1="462.0" x2="365.4" y2="462.0" stroke="#ee1eee" stroke-width="2.2" stroke-linecap="butt"/>
<line x1="355.4" y1="482.3" x2="365.4" y2="482.3" stroke="#ee1eee" stroke-width="2.2" stroke-linecap="butt"/>
<line x1="372.4" y1="488.6" x2="372.4" y2="516.0" stroke="#ee1eee" stroke-width="2.2" stroke-linecap="butt"/>
<line x1="367.4" y1="488.6" x2="377.4" y2="488.6" stroke="#ee1eee" stroke-width="2.2" stroke-linecap="butt"/>
<line x1="367.4" y1="516.0" x2="377.4" y2="516.0" stroke="#ee1eee" stroke-width="2.2" stroke-linecap="butt"/>
<circle cx="169.7" cy="258.5" r="8.7" fill="#ee1eee"/>
<circle cx="244.4" cy="337.6" r="8.7" fill="#ee1eee"/>
<circle cx="283.5" cy="370.5" r="8.7" fill="#ee1eee"/>
<circle cx="310" cy="408.7" r="8.7" fill="#ee1eee"/>
<circle cx="330" cy="434.9" r="8.7" fill="#ee1eee"/>
<circle cx="346.9" cy="456.1" r="8.7" fill="#ee1eee"/>
<circle cx="360.4" cy="471.1" r="8.7" fill="#ee1eee"/>
<circle cx="372.4" cy="499.8" r="8.7" fill="#ee1eee"/>
<line x1="422.4" y1="378.7" x2="364.0" y2="392.2" stroke="#ee8418" stroke-width="3.2" stroke-linecap="round"/>
<polygon points="346.5,396.2 364.6,385.6 367.4,397.8" fill="#ee8418"/>
<line x1="432.4" y1="447.4" x2="376.2" y2="457.5" stroke="#ee1eee" stroke-width="3.2" stroke-linecap="round"/>
<polygon points="355.5,461.2 377.0,451.0 379.2,463.2" fill="#ee1eee"/>
<text transform="translate(172.4,148.3) rotate(11)" font-family="Liberation Sans, sans-serif" font-weight="bold" fill="#ee1eee"><tspan font-size="26.5">[OH]</tspan><tspan font-size="19" dy="7.3">307</tspan></text>
<text transform="translate(377.3,190.3) rotate(10)" font-family="Liberation Sans, sans-serif" font-weight="bold" fill="#e3141b"><tspan font-size="27">[OH]</tspan><tspan font-size="18.5" dy="7.5">sim</tspan></text>
<text x="412.3" y="272.3" font-family="Liberation Sans, sans-serif" font-weight="bold" fill="#e3141b"><tspan font-size="27.7">[OH]</tspan><tspan font-size="19.3" dy="7.6">exp</tspan></text>
<text x="426.5" y="391.8" font-family="Liberation Sans, sans-serif" font-weight="bold" fill="#ee8418"><tspan font-size="27.7">[n</tspan><tspan font-size="19.3" dy="7.6">e</tspan><tspan font-size="27.7" dy="-7.6">]</tspan><tspan font-size="19.3" dy="7.6">exp</tspan></text>
<text x="156.6" y="399.3" font-family="Liberation Sans, sans-serif" font-weight="bold" fill="#ee8418"><tspan font-size="27.7">[n</tspan><tspan font-size="19.3" dy="7.6">e</tspan><tspan font-size="27.7" dy="-7.6">]</tspan><tspan font-size="19.3" dy="7.6">sim</tspan></text>
<text x="432.6" y="460.8" font-family="Liberation Sans, sans-serif" font-weight="bold" fill="#ee1eee"><tspan font-size="27.5">[He]</tspan><tspan font-size="18.8" dy="7.7">587</tspan></text>
<text transform="translate(358.3,377.1) rotate(-22)" font-size="23.5" font-family="Liberation Sans, sans-serif" font-weight="bold" fill="#6a14ee">T</text>
<text x="373.6" y="375.5" font-size="16" font-family="Liberation Sans, sans-serif" font-weight="bold" fill="#6a14ee">e</text>
<text x="728.7" y="507.9" font-family="Liberation Sans, sans-serif" font-weight="bold" fill="#000"><tspan font-size="37">(a)</tspan></text>
<rect x="141.2" y="546.5" width="651.1" height="480.1" fill="none" stroke="#000" stroke-width="3.5"/>
<line x1="156.8" y1="1026.6" x2="156.8" y2="1021.6" stroke="#000" stroke-width="3.0" stroke-linecap="butt"/>
<line x1="169.8" y1="1026.6" x2="169.8" y2="1021.6" stroke="#000" stroke-width="3.0" stroke-linecap="butt"/>
<line x1="181.1" y1="1026.6" x2="181.1" y2="1021.6" stroke="#000" stroke-width="3.0" stroke-linecap="butt"/>
<line x1="191.1" y1="1026.6" x2="191.1" y2="1021.6" stroke="#000" stroke-width="3.0" stroke-linecap="butt"/>
<line x1="200.0" y1="1026.6" x2="200.0" y2="1017.1" stroke="#000" stroke-width="3.0" stroke-linecap="butt"/>
<line x1="258.7" y1="1026.6" x2="258.7" y2="1021.6" stroke="#000" stroke-width="3.0" stroke-linecap="butt"/>
<line x1="293.0" y1="1026.6" x2="293.0" y2="1021.6" stroke="#000" stroke-width="3.0" stroke-linecap="butt"/>
<line x1="317.3" y1="1026.6" x2="317.3" y2="1021.6" stroke="#000" stroke-width="3.0" stroke-linecap="butt"/>
<line x1="336.2" y1="1026.6" x2="336.2" y2="1021.6" stroke="#000" stroke-width="3.0" stroke-linecap="butt"/>
<line x1="351.7" y1="1026.6" x2="351.7" y2="1021.6" stroke="#000" stroke-width="3.0" stroke-linecap="butt"/>
<line x1="364.7" y1="1026.6" x2="364.7" y2="1021.6" stroke="#000" stroke-width="3.0" stroke-linecap="butt"/>
<line x1="376.0" y1="1026.6" x2="376.0" y2="1021.6" stroke="#000" stroke-width="3.0" stroke-linecap="butt"/>
<line x1="386.0" y1="1026.6" x2="386.0" y2="1021.6" stroke="#000" stroke-width="3.0" stroke-linecap="butt"/>
<line x1="394.9" y1="1026.6" x2="394.9" y2="1017.1" stroke="#000" stroke-width="3.0" stroke-linecap="butt"/>
<line x1="453.6" y1="1026.6" x2="453.6" y2="1021.6" stroke="#000" stroke-width="3.0" stroke-linecap="butt"/>
<line x1="487.9" y1="1026.6" x2="487.9" y2="1021.6" stroke="#000" stroke-width="3.0" stroke-linecap="butt"/>
<line x1="512.2" y1="1026.6" x2="512.2" y2="1021.6" stroke="#000" stroke-width="3.0" stroke-linecap="butt"/>
<line x1="531.1" y1="1026.6" x2="531.1" y2="1021.6" stroke="#000" stroke-width="3.0" stroke-linecap="butt"/>
<line x1="546.6" y1="1026.6" x2="546.6" y2="1021.6" stroke="#000" stroke-width="3.0" stroke-linecap="butt"/>
<line x1="559.6" y1="1026.6" x2="559.6" y2="1021.6" stroke="#000" stroke-width="3.0" stroke-linecap="butt"/>
<line x1="570.9" y1="1026.6" x2="570.9" y2="1021.6" stroke="#000" stroke-width="3.0" stroke-linecap="butt"/>
<line x1="580.9" y1="1026.6" x2="580.9" y2="1021.6" stroke="#000" stroke-width="3.0" stroke-linecap="butt"/>
<line x1="589.8" y1="1026.6" x2="589.8" y2="1017.1" stroke="#000" stroke-width="3.0" stroke-linecap="butt"/>
<line x1="648.5" y1="1026.6" x2="648.5" y2="1021.6" stroke="#000" stroke-width="3.0" stroke-linecap="butt"/>
<line x1="682.8" y1="1026.6" x2="682.8" y2="1021.6" stroke="#000" stroke-width="3.0" stroke-linecap="butt"/>
<line x1="707.1" y1="1026.6" x2="707.1" y2="1021.6" stroke="#000" stroke-width="3.0" stroke-linecap="butt"/>
<line x1="726.0" y1="1026.6" x2="726.0" y2="1021.6" stroke="#000" stroke-width="3.0" stroke-linecap="butt"/>
<line x1="741.5" y1="1026.6" x2="741.5" y2="1021.6" stroke="#000" stroke-width="3.0" stroke-linecap="butt"/>
<line x1="754.5" y1="1026.6" x2="754.5" y2="1021.6" stroke="#000" stroke-width="3.0" stroke-linecap="butt"/>
<line x1="765.8" y1="1026.6" x2="765.8" y2="1021.6" stroke="#000" stroke-width="3.0" stroke-linecap="butt"/>
<line x1="775.8" y1="1026.6" x2="775.8" y2="1021.6" stroke="#000" stroke-width="3.0" stroke-linecap="butt"/>
<line x1="784.7" y1="1026.6" x2="784.7" y2="1017.1" stroke="#000" stroke-width="3.0" stroke-linecap="butt"/>
<line x1="141.2" y1="1000.4" x2="146.2" y2="1000.4" stroke="#000" stroke-width="3.0" stroke-linecap="butt"/>
<line x1="141.2" y1="985.6" x2="146.2" y2="985.6" stroke="#000" stroke-width="3.0" stroke-linecap="butt"/>
<line x1="141.2" y1="975.1" x2="146.2" y2="975.1" stroke="#000" stroke-width="3.0" stroke-linecap="butt"/>
<line x1="141.2" y1="967.0" x2="146.2" y2="967.0" stroke="#000" stroke-width="3.0" stroke-linecap="butt"/>
<line x1="141.2" y1="960.3" x2="146.2" y2="960.3" stroke="#000" stroke-width="3.0" stroke-linecap="butt"/>
<line x1="141.2" y1="954.7" x2="146.2" y2="954.7" stroke="#000" stroke-width="3.0" stroke-linecap="butt"/>
<line x1="141.2" y1="949.8" x2="146.2" y2="949.8" stroke="#000" stroke-width="3.0" stroke-linecap="butt"/>
<line x1="141.2" y1="945.5" x2="146.2" y2="945.5" stroke="#000" stroke-width="3.0" stroke-linecap="butt"/>
<line x1="141.2" y1="941.7" x2="150.7" y2="941.7" stroke="#000" stroke-width="3.0" stroke-linecap="butt"/>
<line x1="141.2" y1="916.4" x2="146.2" y2="916.4" stroke="#000" stroke-width="3.0" stroke-linecap="butt"/>
<line x1="141.2" y1="901.6" x2="146.2" y2="901.6" stroke="#000" stroke-width="3.0" stroke-linecap="butt"/>
<line x1="141.2" y1="891.1" x2="146.2" y2="891.1" stroke="#000" stroke-width="3.0" stroke-linecap="butt"/>
<line x1="141.2" y1="883.0" x2="146.2" y2="883.0" stroke="#000" stroke-width="3.0" stroke-linecap="butt"/>
<line x1="141.2" y1="876.3" x2="146.2" y2="876.3" stroke="#000" stroke-width="3.0" stroke-linecap="butt"/>
<line x1="141.2" y1="870.7" x2="146.2" y2="870.7" stroke="#000" stroke-width="3.0" stroke-linecap="butt"/>
<line x1="141.2" y1="865.8" x2="146.2" y2="865.8" stroke="#000" stroke-width="3.0" stroke-linecap="butt"/>
<line x1="141.2" y1="861.5" x2="146.2" y2="861.5" stroke="#000" stroke-width="3.0" stroke-linecap="butt"/>
<line x1="141.2" y1="857.7" x2="150.7" y2="857.7" stroke="#000" stroke-width="3.0" stroke-linecap="butt"/>
<line x1="141.2" y1="832.4" x2="146.2" y2="832.4" stroke="#000" stroke-width="3.0" stroke-linecap="butt"/>
<line x1="141.2" y1="817.6" x2="146.2" y2="817.6" stroke="#000" stroke-width="3.0" stroke-linecap="butt"/>
<line x1="141.2" y1="807.1" x2="146.2" y2="807.1" stroke="#000" stroke-width="3.0" stroke-linecap="butt"/>
<line x1="141.2" y1="799.0" x2="146.2" y2="799.0" stroke="#000" stroke-width="3.0" stroke-linecap="butt"/>
<line x1="141.2" y1="792.3" x2="146.2" y2="792.3" stroke="#000" stroke-width="3.0" stroke-linecap="butt"/>
<line x1="141.2" y1="786.7" x2="146.2" y2="786.7" stroke="#000" stroke-width="3.0" stroke-linecap="butt"/>
<line x1="141.2" y1="781.8" x2="146.2" y2="781.8" stroke="#000" stroke-width="3.0" stroke-linecap="butt"/>
<line x1="141.2" y1="777.5" x2="146.2" y2="777.5" stroke="#000" stroke-width="3.0" stroke-linecap="butt"/>
<line x1="141.2" y1="773.7" x2="150.7" y2="773.7" stroke="#000" stroke-width="3.0" stroke-linecap="butt"/>
<line x1="141.2" y1="748.4" x2="146.2" y2="748.4" stroke="#000" stroke-width="3.0" stroke-linecap="butt"/>
<line x1="141.2" y1="733.6" x2="146.2" y2="733.6" stroke="#000" stroke-width="3.0" stroke-linecap="butt"/>
<line x1="141.2" y1="723.1" x2="146.2" y2="723.1" stroke="#000" stroke-width="3.0" stroke-linecap="butt"/>
<line x1="141.2" y1="715.0" x2="146.2" y2="715.0" stroke="#000" stroke-width="3.0" stroke-linecap="butt"/>
<line x1="141.2" y1="708.3" x2="146.2" y2="708.3" stroke="#000" stroke-width="3.0" stroke-linecap="butt"/>
<line x1="141.2" y1="702.7" x2="146.2" y2="702.7" stroke="#000" stroke-width="3.0" stroke-linecap="butt"/>
<line x1="141.2" y1="697.8" x2="146.2" y2="697.8" stroke="#000" stroke-width="3.0" stroke-linecap="butt"/>
<line x1="141.2" y1="693.5" x2="146.2" y2="693.5" stroke="#000" stroke-width="3.0" stroke-linecap="butt"/>
<line x1="141.2" y1="689.7" x2="150.7" y2="689.7" stroke="#000" stroke-width="3.0" stroke-linecap="butt"/>
<line x1="141.2" y1="664.4" x2="146.2" y2="664.4" stroke="#000" stroke-width="3.0" stroke-linecap="butt"/>
<line x1="141.2" y1="649.6" x2="146.2" y2="649.6" stroke="#000" stroke-width="3.0" stroke-linecap="butt"/>
<line x1="141.2" y1="639.1" x2="146.2" y2="639.1" stroke="#000" stroke-width="3.0" stroke-linecap="butt"/>
<line x1="141.2" y1="631.0" x2="146.2" y2="631.0" stroke="#000" stroke-width="3.0" stroke-linecap="butt"/>
<line x1="141.2" y1="624.3" x2="146.2" y2="624.3" stroke="#000" stroke-width="3.0" stroke-linecap="butt"/>
<line x1="141.2" y1="618.7" x2="146.2" y2="618.7" stroke="#000" stroke-width="3.0" stroke-linecap="butt"/>
<line x1="141.2" y1="613.8" x2="146.2" y2="613.8" stroke="#000" stroke-width="3.0" stroke-linecap="butt"/>
<line x1="141.2" y1="609.5" x2="146.2" y2="609.5" stroke="#000" stroke-width="3.0" stroke-linecap="butt"/>
<line x1="141.2" y1="605.7" x2="150.7" y2="605.7" stroke="#000" stroke-width="3.0" stroke-linecap="butt"/>
<line x1="141.2" y1="580.4" x2="146.2" y2="580.4" stroke="#000" stroke-width="3.0" stroke-linecap="butt"/>
<line x1="141.2" y1="565.6" x2="146.2" y2="565.6" stroke="#000" stroke-width="3.0" stroke-linecap="butt"/>
<line x1="141.2" y1="555.1" x2="146.2" y2="555.1" stroke="#000" stroke-width="3.0" stroke-linecap="butt"/>
<text x="60.9" y="1039.7" font-size="36" font-family="Liberation Sans, sans-serif" font-weight="bold" fill="#000">10</text>
<text x="102.9" y="1024.2" font-size="24" font-family="Liberation Sans, sans-serif" font-weight="bold" fill="#000">17</text>
<text x="60.9" y="955.7" font-size="36" font-family="Liberation Sans, sans-serif" font-weight="bold" fill="#000">10</text>
<text x="102.9" y="940.2" font-size="24" font-family="Liberation Sans, sans-serif" font-weight="bold" fill="#000">18</text>
<text x="60.9" y="871.7" font-size="36" font-family="Liberation Sans, sans-serif" font-weight="bold" fill="#000">10</text>
<text x="102.9" y="856.2" font-size="24" font-family="Liberation Sans, sans-serif" font-weight="bold" fill="#000">19</text>
<text x="60.9" y="787.7" font-size="36" font-family="Liberation Sans, sans-serif" font-weight="bold" fill="#000">10</text>
<text x="102.9" y="772.2" font-size="24" font-family="Liberation Sans, sans-serif" font-weight="bold" fill="#000">20</text>
<text x="60.9" y="703.7" font-size="36" font-family="Liberation Sans, sans-serif" font-weight="bold" fill="#000">10</text>
<text x="102.9" y="688.2" font-size="24" font-family="Liberation Sans, sans-serif" font-weight="bold" fill="#000">21</text>
<text x="60.9" y="619.7" font-size="36" font-family="Liberation Sans, sans-serif" font-weight="bold" fill="#000">10</text>
<text x="102.9" y="604.2" font-size="24" font-family="Liberation Sans, sans-serif" font-weight="bold" fill="#000">22</text>
<clipPath id="cb"><rect x="141.2" y="546.5" width="651.1" height="480.1"/></clipPath>
<g clip-path="url(#cb)">
<path d="M142.0,991.0 C142.5,989.7 143.9,986.6 144.8,983.2 C145.7,979.8 146.4,975.5 147.3,970.8 C148.2,966.0 149.3,959.9 150.4,954.7 C151.5,949.6 152.7,944.9 154.1,939.9 C155.5,934.9 157.2,930.0 159.0,925.0 C160.8,920.0 162.9,914.9 165.2,910.1 C167.5,905.4 170.0,901.0 172.7,896.5 C175.4,892.0 178.2,887.9 181.3,882.9 C184.4,877.9 187.7,872.2 191.2,866.8 C194.7,861.4 198.7,856.3 202.4,850.7 C206.1,845.1 209.8,839.2 213.5,833.4 C217.2,827.6 221.1,821.7 224.6,816.1 C228.1,810.5 229.9,807.4 234.5,800.0 C239.1,792.6 245.2,781.9 252.4,772.0 C259.6,762.1 269.1,750.2 277.4,740.8 C285.7,731.4 294.0,723.7 302.3,715.8 C310.6,707.9 319.0,700.0 327.3,693.4 C335.6,686.8 344.0,681.3 352.3,675.9 C360.6,670.5 371.0,664.2 377.3,660.9 C383.6,657.6 383.7,658.2 390.0,655.9 C396.3,653.6 406.7,649.7 415.0,647.1 C423.3,644.5 431.7,642.3 440.0,640.4 C448.3,638.5 456.7,637.5 465.0,635.9 C473.3,634.3 481.7,632.3 490.0,630.9 C498.3,629.5 506.6,628.2 514.9,627.2 C523.2,626.2 530.7,625.8 539.9,624.7 C549.1,623.7 565.0,621.5 570.0,620.9" fill="none" stroke="#8a8c18" stroke-width="3.4" stroke-linejoin="round" stroke-linecap="round" />
<path d="M636.2,619.7 C646.8,619.7 675.0,619.7 700.0,619.8 C725.0,619.9 771.7,620.1 786.0,620.2" fill="none" stroke="#8a8c18" stroke-width="3.4" stroke-linejoin="round" stroke-linecap="round" />
<path d="M141.5,767.0 C142.1,765.3 143.2,760.5 145.0,757.0 C146.8,753.5 150.0,749.1 152.5,745.8 C155.0,742.5 157.1,739.5 160.0,737.0 C162.9,734.5 165.0,733.9 170.0,730.8 C175.0,727.7 182.5,723.3 190.0,718.3 C197.5,713.3 206.6,707.0 214.9,700.8 C223.2,694.6 231.6,687.5 239.9,680.9 C248.2,674.2 256.6,667.6 264.9,660.9 C273.2,654.2 281.5,647.6 289.8,640.9 C298.1,634.2 306.5,626.7 314.8,620.9 C323.1,615.1 331.5,610.3 339.8,605.9 C348.1,601.5 356.4,597.9 364.8,594.7 C373.2,591.5 381.6,588.8 390.0,586.5 C398.4,584.2 406.7,582.3 415.0,581.0 C423.3,579.7 427.5,579.2 440.0,578.7 C452.5,578.2 470.0,577.9 490.0,577.7 C510.0,577.5 530.3,577.5 560.0,577.5 C589.7,577.5 650.0,577.6 668.0,577.6" fill="none" stroke="#6a9bcd" stroke-width="3.4" stroke-linejoin="round" stroke-linecap="round" />
<path d="M691.0,577.6 L786.0,577.6" fill="none" stroke="#6a9bcd" stroke-width="3.4" stroke-linejoin="round" stroke-linecap="round" />
<path d="M141.5,1028.0 C142.1,1027.7 142.8,1027.8 145.0,1026.0 C147.2,1024.2 151.7,1019.4 155.0,1017.3 C158.3,1015.2 160.4,1014.8 165.0,1013.5 C169.6,1012.2 177.1,1011.7 182.5,1009.8 C187.9,1007.9 192.0,1005.6 197.4,1002.3 C202.8,999.0 208.7,994.4 214.9,989.8 C221.2,985.2 228.7,978.8 234.9,974.8 C241.2,970.8 247.4,969.0 252.4,966.1 C257.4,963.2 258.7,962.5 264.9,957.3 C271.1,952.1 281.5,942.3 289.8,934.8 C298.1,927.3 306.5,920.3 314.8,912.4 C323.1,904.5 331.5,895.3 339.8,887.4 C348.1,879.5 356.4,871.3 364.8,864.9 C373.2,858.5 381.6,853.5 390.0,848.7 C398.4,843.9 406.3,840.6 415.0,836.2 C423.7,831.8 437.8,824.8 442.4,822.5" fill="none" stroke="#c24de6" stroke-width="3.4" stroke-linejoin="round" stroke-linecap="round" />
<path d="M487.4,810.5 C492.0,809.8 506.1,807.1 514.9,806.2 C523.6,805.3 531.6,804.9 539.9,805.0 C548.2,805.1 556.5,806.0 564.8,807.0 C573.1,808.0 581.5,809.5 589.8,811.2 C598.1,813.0 606.6,815.4 614.8,817.5 C623.0,819.6 628.5,820.7 639.0,823.9 C649.5,827.1 665.0,831.9 678.0,836.6 C691.0,841.3 704.0,847.0 717.0,852.2 C730.0,857.4 745.4,863.6 756.1,867.8 C766.9,872.0 777.3,876.0 781.5,877.6" fill="none" stroke="#c24de6" stroke-width="3.4" stroke-linejoin="round" stroke-linecap="round" />
<path d="M141.5,757.0 C142.1,755.2 143.2,750.0 145.0,746.0 C146.8,742.0 149.2,737.5 152.5,733.3 C155.8,729.1 158.8,725.0 165.0,720.8 C171.2,716.6 183.3,712.0 190.0,708.3 C196.7,704.5 200.0,702.4 205.0,698.3 C210.0,694.1 214.9,688.8 219.9,683.4 C224.9,678.0 229.5,670.9 234.9,665.9 C240.3,660.9 246.6,658.0 252.4,653.4 C258.2,648.8 263.7,642.8 269.9,638.4 C276.1,634.0 282.3,630.5 289.8,627.2 C297.3,623.9 306.5,620.5 314.8,618.4 C323.1,616.3 331.5,614.9 339.8,614.7 C348.1,614.5 356.4,616.2 364.8,617.2 C373.2,618.2 381.6,618.6 390.0,620.9 C398.4,623.2 406.7,627.6 415.0,630.9 C423.3,634.2 431.7,636.7 440.0,640.9 C448.3,645.1 456.6,650.1 464.9,655.9 C473.2,661.7 481.6,668.8 489.9,675.9 C498.2,683.0 506.6,690.0 514.9,698.3 C523.2,706.6 532.0,715.8 539.9,725.8 C547.8,735.8 558.6,752.9 562.3,758.3" fill="none" stroke="#e8701f" stroke-width="3.4" stroke-linejoin="round" stroke-linecap="round" />
<path d="M587.3,786.0 C589.4,787.7 595.4,792.6 600.0,796.0 C604.6,799.4 608.3,802.7 614.8,806.5 C621.3,810.3 628.5,814.3 639.0,819.0 C649.5,823.7 665.0,828.8 678.0,834.6 C691.0,840.5 704.0,847.9 717.0,854.1 C730.0,860.3 744.9,867.0 756.1,871.7 C767.3,876.4 779.7,880.6 784.4,882.4" fill="none" stroke="#e8701f" stroke-width="3.4" stroke-linejoin="round" stroke-linecap="round" />
<path d="M141.5,665.5 C142.2,664.1 144.2,659.4 146.0,657.0 C147.8,654.6 149.3,653.6 152.5,650.9 C155.7,648.2 158.8,644.6 165.0,640.9 C171.2,637.1 182.5,632.1 190.0,628.4 C197.5,624.6 203.8,622.1 210.0,618.4 C216.2,614.6 221.6,609.4 227.4,605.9 C233.2,602.4 239.1,599.9 244.9,597.2 C250.7,594.5 257.4,591.8 262.4,589.7 C267.4,587.6 272.8,585.5 274.9,584.7" fill="none" stroke="#6cb52a" stroke-width="3.4" stroke-linejoin="round" stroke-linecap="round" />
<path d="M299.8,578.5 C303.1,578.5 313.1,577.7 319.8,578.5 C326.5,579.3 333.1,581.0 339.8,583.5 C346.5,586.0 353.6,589.9 359.8,593.5 C366.1,597.1 372.3,601.7 377.3,605.0 C382.3,608.3 385.8,609.7 390.0,613.2 C394.2,616.7 398.3,621.3 402.5,625.9 C406.7,630.5 410.8,635.5 415.0,640.9 C419.2,646.3 423.3,652.1 427.5,658.4 C431.7,664.6 435.9,671.3 440.0,678.4 C444.1,685.5 448.2,693.3 452.4,700.8 C456.5,708.3 460.7,715.8 464.9,723.3 C469.1,730.8 473.2,738.3 477.4,745.8 C481.6,753.3 485.7,761.2 489.9,768.3 C494.1,775.4 498.2,781.8 502.4,788.3 C506.6,794.8 510.3,799.3 514.9,807.5 C519.5,815.7 524.9,827.4 529.9,837.4 C534.9,847.4 539.0,857.0 544.8,867.4 C550.6,877.8 559.0,890.3 564.8,899.9 C570.6,909.5 574.8,917.4 579.8,924.9 C584.8,932.4 589.0,938.1 594.8,944.8 C600.6,951.5 607.4,958.0 614.8,965.0 C622.2,972.0 631.7,980.9 639.0,986.8 C646.3,992.7 652.0,996.0 658.5,1000.5 C665.0,1005.0 672.5,1010.0 678.0,1014.1 C683.5,1018.2 689.4,1023.2 691.7,1025.0" fill="none" stroke="#6cb52a" stroke-width="3.4" stroke-linejoin="round" stroke-linecap="round" />
</g>
<text transform="translate(282.7,596.6) rotate(-25)" font-size="26" font-family="Liberation Sans, sans-serif" font-weight="bold" fill="#000">H</text>
<text x="670.5" y="592.8" font-family="Liberation Sans, sans-serif" font-weight="bold" fill="#000"><tspan font-size="27.5">H</tspan><tspan font-size="18.5" dy="7.6">2</tspan></text>
<text transform="translate(574.5,636.7) rotate(-8)" font-family="Liberation Sans, sans-serif" font-weight="bold" fill="#000"><tspan font-size="27.5">H</tspan><tspan font-size="18.5" dy="7.6">2</tspan><tspan font-size="27.5" dy="-7.6">O</tspan><tspan font-size="18.5" dy="7.6">2</tspan></text>
<text x="564.1" y="786.8" font-family="Liberation Sans, sans-serif" font-weight="bold" fill="#000"><tspan font-size="27.5">O</tspan></text>
<text x="443.7" y="834.5" font-family="Liberation Sans, sans-serif" font-weight="bold" fill="#000"><tspan font-size="27.5">HO</tspan><tspan font-size="18.5" dy="7.6">2</tspan></text>
<text x="728.3" y="1008.3" font-family="Liberation Sans, sans-serif" font-weight="bold" fill="#000"><tspan font-size="37">(b)</tspan></text>
<rect x="141.2" y="1049.8" width="651.1" height="480.2" fill="none" stroke="#000" stroke-width="3.5"/>
<line x1="156.8" y1="1530.0" x2="156.8" y2="1525.0" stroke="#000" stroke-width="3.0" stroke-linecap="butt"/>
<line x1="169.8" y1="1530.0" x2="169.8" y2="1525.0" stroke="#000" stroke-width="3.0" stroke-linecap="butt"/>
<line x1="181.1" y1="1530.0" x2="181.1" y2="1525.0" stroke="#000" stroke-width="3.0" stroke-linecap="butt"/>
<line x1="191.1" y1="1530.0" x2="191.1" y2="1525.0" stroke="#000" stroke-width="3.0" stroke-linecap="butt"/>
<line x1="200.0" y1="1530.0" x2="200.0" y2="1520.5" stroke="#000" stroke-width="3.0" stroke-linecap="butt"/>
<line x1="258.7" y1="1530.0" x2="258.7" y2="1525.0" stroke="#000" stroke-width="3.0" stroke-linecap="butt"/>
<line x1="293.0" y1="1530.0" x2="293.0" y2="1525.0" stroke="#000" stroke-width="3.0" stroke-linecap="butt"/>
<line x1="317.3" y1="1530.0" x2="317.3" y2="1525.0" stroke="#000" stroke-width="3.0" stroke-linecap="butt"/>
<line x1="336.2" y1="1530.0" x2="336.2" y2="1525.0" stroke="#000" stroke-width="3.0" stroke-linecap="butt"/>
<line x1="351.7" y1="1530.0" x2="351.7" y2="1525.0" stroke="#000" stroke-width="3.0" stroke-linecap="butt"/>
<line x1="364.7" y1="1530.0" x2="364.7" y2="1525.0" stroke="#000" stroke-width="3.0" stroke-linecap="butt"/>
<line x1="376.0" y1="1530.0" x2="376.0" y2="1525.0" stroke="#000" stroke-width="3.0" stroke-linecap="butt"/>
<line x1="386.0" y1="1530.0" x2="386.0" y2="1525.0" stroke="#000" stroke-width="3.0" stroke-linecap="butt"/>
<line x1="394.9" y1="1530.0" x2="394.9" y2="1520.5" stroke="#000" stroke-width="3.0" stroke-linecap="butt"/>
<line x1="453.6" y1="1530.0" x2="453.6" y2="1525.0" stroke="#000" stroke-width="3.0" stroke-linecap="butt"/>
<line x1="487.9" y1="1530.0" x2="487.9" y2="1525.0" stroke="#000" stroke-width="3.0" stroke-linecap="butt"/>
<line x1="512.2" y1="1530.0" x2="512.2" y2="1525.0" stroke="#000" stroke-width="3.0" stroke-linecap="butt"/>
<line x1="531.1" y1="1530.0" x2="531.1" y2="1525.0" stroke="#000" stroke-width="3.0" stroke-linecap="butt"/>
<line x1="546.6" y1="1530.0" x2="546.6" y2="1525.0" stroke="#000" stroke-width="3.0" stroke-linecap="butt"/>
<line x1="559.6" y1="1530.0" x2="559.6" y2="1525.0" stroke="#000" stroke-width="3.0" stroke-linecap="butt"/>
<line x1="570.9" y1="1530.0" x2="570.9" y2="1525.0" stroke="#000" stroke-width="3.0" stroke-linecap="butt"/>
<line x1="580.9" y1="1530.0" x2="580.9" y2="1525.0" stroke="#000" stroke-width="3.0" stroke-linecap="butt"/>
<line x1="589.8" y1="1530.0" x2="589.8" y2="1520.5" stroke="#000" stroke-width="3.0" stroke-linecap="butt"/>
<line x1="648.5" y1="1530.0" x2="648.5" y2="1525.0" stroke="#000" stroke-width="3.0" stroke-linecap="butt"/>
<line x1="682.8" y1="1530.0" x2="682.8" y2="1525.0" stroke="#000" stroke-width="3.0" stroke-linecap="butt"/>
<line x1="707.1" y1="1530.0" x2="707.1" y2="1525.0" stroke="#000" stroke-width="3.0" stroke-linecap="butt"/>
<line x1="726.0" y1="1530.0" x2="726.0" y2="1525.0" stroke="#000" stroke-width="3.0" stroke-linecap="butt"/>
<line x1="741.5" y1="1530.0" x2="741.5" y2="1525.0" stroke="#000" stroke-width="3.0" stroke-linecap="butt"/>
<line x1="754.5" y1="1530.0" x2="754.5" y2="1525.0" stroke="#000" stroke-width="3.0" stroke-linecap="butt"/>
<line x1="765.8" y1="1530.0" x2="765.8" y2="1525.0" stroke="#000" stroke-width="3.0" stroke-linecap="butt"/>
<line x1="775.8" y1="1530.0" x2="775.8" y2="1525.0" stroke="#000" stroke-width="3.0" stroke-linecap="butt"/>
<line x1="784.7" y1="1530.0" x2="784.7" y2="1520.5" stroke="#000" stroke-width="3.0" stroke-linecap="butt"/>
<line x1="141.2" y1="1491.0" x2="146.2" y2="1491.0" stroke="#000" stroke-width="3.0" stroke-linecap="butt"/>
<line x1="141.2" y1="1468.1" x2="146.2" y2="1468.1" stroke="#000" stroke-width="3.0" stroke-linecap="butt"/>
<line x1="141.2" y1="1451.9" x2="146.2" y2="1451.9" stroke="#000" stroke-width="3.0" stroke-linecap="butt"/>
<line x1="141.2" y1="1439.3" x2="146.2" y2="1439.3" stroke="#000" stroke-width="3.0" stroke-linecap="butt"/>
<line x1="141.2" y1="1429.1" x2="146.2" y2="1429.1" stroke="#000" stroke-width="3.0" stroke-linecap="butt"/>
<line x1="141.2" y1="1420.4" x2="146.2" y2="1420.4" stroke="#000" stroke-width="3.0" stroke-linecap="butt"/>
<line x1="141.2" y1="1412.9" x2="146.2" y2="1412.9" stroke="#000" stroke-width="3.0" stroke-linecap="butt"/>
<line x1="141.2" y1="1406.2" x2="146.2" y2="1406.2" stroke="#000" stroke-width="3.0" stroke-linecap="butt"/>
<line x1="141.2" y1="1400.3" x2="150.7" y2="1400.3" stroke="#000" stroke-width="3.0" stroke-linecap="butt"/>
<line x1="141.2" y1="1361.3" x2="146.2" y2="1361.3" stroke="#000" stroke-width="3.0" stroke-linecap="butt"/>
<line x1="141.2" y1="1338.4" x2="146.2" y2="1338.4" stroke="#000" stroke-width="3.0" stroke-linecap="butt"/>
<line x1="141.2" y1="1322.2" x2="146.2" y2="1322.2" stroke="#000" stroke-width="3.0" stroke-linecap="butt"/>
<line x1="141.2" y1="1309.6" x2="146.2" y2="1309.6" stroke="#000" stroke-width="3.0" stroke-linecap="butt"/>
<line x1="141.2" y1="1299.4" x2="146.2" y2="1299.4" stroke="#000" stroke-width="3.0" stroke-linecap="butt"/>
<line x1="141.2" y1="1290.7" x2="146.2" y2="1290.7" stroke="#000" stroke-width="3.0" stroke-linecap="butt"/>
<line x1="141.2" y1="1283.2" x2="146.2" y2="1283.2" stroke="#000" stroke-width="3.0" stroke-linecap="butt"/>
<line x1="141.2" y1="1276.5" x2="146.2" y2="1276.5" stroke="#000" stroke-width="3.0" stroke-linecap="butt"/>
<line x1="141.2" y1="1270.6" x2="150.7" y2="1270.6" stroke="#000" stroke-width="3.0" stroke-linecap="butt"/>
<line x1="141.2" y1="1231.6" x2="146.2" y2="1231.6" stroke="#000" stroke-width="3.0" stroke-linecap="butt"/>
<line x1="141.2" y1="1208.7" x2="146.2" y2="1208.7" stroke="#000" stroke-width="3.0" stroke-linecap="butt"/>
<line x1="141.2" y1="1192.5" x2="146.2" y2="1192.5" stroke="#000" stroke-width="3.0" stroke-linecap="butt"/>
<line x1="141.2" y1="1179.9" x2="146.2" y2="1179.9" stroke="#000" stroke-width="3.0" stroke-linecap="butt"/>
<line x1="141.2" y1="1169.7" x2="146.2" y2="1169.7" stroke="#000" stroke-width="3.0" stroke-linecap="butt"/>
<line x1="141.2" y1="1161.0" x2="146.2" y2="1161.0" stroke="#000" stroke-width="3.0" stroke-linecap="butt"/>
<line x1="141.2" y1="1153.5" x2="146.2" y2="1153.5" stroke="#000" stroke-width="3.0" stroke-linecap="butt"/>
<line x1="141.2" y1="1146.8" x2="146.2" y2="1146.8" stroke="#000" stroke-width="3.0" stroke-linecap="butt"/>
<line x1="141.2" y1="1140.9" x2="150.7" y2="1140.9" stroke="#000" stroke-width="3.0" stroke-linecap="butt"/>
<line x1="141.2" y1="1101.9" x2="146.2" y2="1101.9" stroke="#000" stroke-width="3.0" stroke-linecap="butt"/>
<line x1="141.2" y1="1079.0" x2="146.2" y2="1079.0" stroke="#000" stroke-width="3.0" stroke-linecap="butt"/>
<line x1="141.2" y1="1062.8" x2="146.2" y2="1062.8" stroke="#000" stroke-width="3.0" stroke-linecap="butt"/>
<text x="60.9" y="1544.0" font-size="36" font-family="Liberation Sans, sans-serif" font-weight="bold" fill="#000">10</text>
<text x="102.9" y="1528.5" font-size="24" font-family="Liberation Sans, sans-serif" font-weight="bold" fill="#000">17</text>
<text x="60.9" y="1414.3" font-size="36" font-family="Liberation Sans, sans-serif" font-weight="bold" fill="#000">10</text>
<text x="102.9" y="1398.8" font-size="24" font-family="Liberation Sans, sans-serif" font-weight="bold" fill="#000">18</text>
<text x="60.9" y="1284.6" font-size="36" font-family="Liberation Sans, sans-serif" font-weight="bold" fill="#000">10</text>
<text x="102.9" y="1269.1" font-size="24" font-family="Liberation Sans, sans-serif" font-weight="bold" fill="#000">19</text>
<text x="60.9" y="1154.9" font-size="36" font-family="Liberation Sans, sans-serif" font-weight="bold" fill="#000">10</text>
<text x="102.9" y="1139.4" font-size="24" font-family="Liberation Sans, sans-serif" font-weight="bold" fill="#000">20</text>
<clipPath id="cc"><rect x="141.2" y="1049.8" width="651.1" height="480.2"/></clipPath>
<g clip-path="url(#cc)">
<path d="M141.5,1393.0 C143.3,1393.3 149.0,1396.7 152.5,1394.9 C156.0,1393.1 159.2,1388.7 162.5,1382.4 C165.8,1376.2 169.2,1363.6 172.5,1357.4 C175.8,1351.2 179.6,1346.2 182.5,1345.0 C185.4,1343.8 187.1,1346.7 190.0,1350.0 C192.9,1353.3 196.7,1359.9 200.0,1364.9 C203.3,1369.9 206.7,1374.5 210.0,1379.9 C213.3,1385.3 216.8,1393.7 219.9,1397.4 C223.0,1401.1 225.8,1404.0 228.7,1401.9 C231.6,1399.8 234.3,1390.0 237.4,1384.9 C240.5,1379.8 244.5,1372.0 247.4,1371.2 C250.3,1370.4 252.4,1375.1 254.9,1379.9 C257.4,1384.7 260.3,1395.7 262.4,1399.9 C264.5,1404.1 265.3,1406.6 267.4,1404.9 C269.5,1403.2 272.0,1394.3 274.9,1389.9 C277.8,1385.5 281.6,1380.4 284.9,1378.7 C288.2,1377.0 291.9,1382.2 294.8,1379.9 C297.7,1377.6 299.4,1369.9 302.3,1364.9 C305.2,1359.9 308.6,1355.6 312.3,1350.0 C316.1,1344.4 321.1,1335.6 324.8,1331.2 C328.5,1326.8 330.5,1325.7 334.4,1323.4 C338.3,1321.1 343.8,1318.9 348.0,1317.6 C352.2,1316.3 355.9,1315.6 359.8,1315.6 C363.7,1315.6 367.6,1316.0 371.5,1317.6 C375.4,1319.2 379.6,1323.0 383.2,1325.4 C386.8,1327.8 390.3,1329.9 392.9,1332.0 C395.5,1334.1 397.0,1336.4 398.8,1338.2 C400.6,1340.0 401.9,1342.3 403.5,1342.9 C405.1,1343.5 406.8,1341.0 408.2,1341.8 C409.6,1342.6 410.6,1345.8 411.8,1347.6 C413.0,1349.4 414.1,1351.6 415.3,1352.4 C416.5,1353.2 417.6,1351.2 418.8,1352.4 C420.0,1353.6 421.2,1355.5 422.4,1359.4 C423.6,1363.3 424.7,1370.0 425.9,1375.9 C427.1,1381.8 428.0,1389.6 429.4,1394.7 C430.8,1399.8 433.3,1404.5 434.1,1406.5" fill="none" stroke="#4a4a4a" stroke-width="3.4" stroke-linejoin="round" stroke-linecap="round" />
<path d="M507.1,1457.1 C508.3,1460.0 511.8,1467.8 514.1,1474.7 C516.5,1481.6 518.9,1488.8 521.2,1498.2 C523.6,1507.6 527.0,1525.5 528.2,1531.0" fill="none" stroke="#4a4a4a" stroke-width="3.4" stroke-linejoin="round" stroke-linecap="round" />
<path d="M141.5,1316.0 C143.8,1315.6 151.1,1312.6 155.0,1313.7 C158.9,1314.8 161.7,1317.7 165.0,1322.5 C168.3,1327.3 171.7,1336.9 175.0,1342.5 C178.3,1348.1 181.7,1355.0 185.0,1356.2 C188.3,1357.5 191.3,1353.5 195.0,1350.0 C198.7,1346.5 203.2,1340.2 207.4,1335.0 C211.6,1329.8 216.4,1322.5 219.9,1318.7 C223.4,1315.0 226.2,1312.3 228.7,1312.5 C231.2,1312.7 232.6,1316.2 234.9,1320.0 C237.2,1323.8 241.2,1332.5 242.4,1335.0" fill="none" stroke="#3aa37a" stroke-width="3.4" stroke-linejoin="round" stroke-linecap="round" />
<path d="M258.6,1327.5 C259.2,1326.4 260.8,1322.7 262.0,1321.0 C263.2,1319.3 264.8,1317.8 266.1,1317.5 C267.4,1317.2 268.5,1318.0 270.0,1319.0 C271.5,1320.0 274.1,1322.9 274.9,1323.7" fill="none" stroke="#3aa37a" stroke-width="3.4" stroke-linejoin="round" stroke-linecap="round" />
<path d="M279.9,1335.0 C281.6,1335.8 287.0,1337.5 289.9,1340.0 C292.8,1342.5 294.8,1345.8 297.3,1350.0 C299.8,1354.2 301.9,1359.9 304.8,1364.9 C307.7,1369.9 311.7,1373.7 314.8,1379.9 C317.9,1386.1 320.4,1395.8 323.2,1402.0 C326.0,1408.2 328.7,1412.4 331.4,1416.9 C334.1,1421.4 336.6,1424.0 339.6,1429.2 C342.6,1434.4 346.7,1442.8 349.2,1448.3 C351.7,1453.8 352.8,1456.8 354.6,1462.0 C356.4,1467.2 358.3,1474.0 360.1,1479.7 C361.9,1485.4 364.0,1490.9 365.6,1496.1 C367.2,1501.3 368.3,1505.3 369.7,1511.1 C371.1,1516.9 373.1,1527.7 373.8,1531.0" fill="none" stroke="#3aa37a" stroke-width="3.4" stroke-linejoin="round" stroke-linecap="round" />
<path d="M141.5,1331.0 C142.0,1330.2 143.3,1328.1 144.5,1326.0 C145.7,1323.9 147.1,1320.6 148.5,1318.5 C149.9,1316.4 151.2,1314.9 153.0,1313.5 C154.8,1312.1 156.9,1310.8 159.0,1310.0 C161.1,1309.2 163.2,1308.8 165.4,1308.8 C167.6,1308.8 169.9,1309.2 172.0,1310.0 C174.1,1310.8 175.7,1312.1 178.0,1313.6 C180.3,1315.1 183.4,1317.5 186.0,1319.0 C188.6,1320.5 190.2,1322.7 193.3,1322.5 C196.5,1322.3 201.3,1320.1 204.9,1318.0 C208.5,1315.9 210.7,1313.0 214.9,1310.0 C219.1,1307.0 225.7,1300.8 229.9,1300.0 C234.1,1299.2 237.0,1302.6 239.9,1304.9 C242.8,1307.2 245.3,1311.8 247.4,1313.7 C249.5,1315.6 250.7,1316.1 252.4,1316.1 C254.1,1316.1 254.9,1315.3 257.4,1313.7 C259.9,1312.1 264.5,1306.8 267.4,1306.2 C270.3,1305.6 272.0,1307.3 274.9,1310.0 C277.8,1312.7 281.2,1318.8 284.9,1322.5 C288.6,1326.2 293.1,1327.1 297.3,1332.5 C301.5,1337.9 306.1,1348.7 309.8,1354.9 C313.6,1361.1 316.9,1365.7 319.8,1369.9 C322.7,1374.1 324.9,1376.0 327.3,1380.0 C329.7,1384.0 331.6,1389.2 334.1,1393.7 C336.6,1398.2 339.6,1402.1 342.3,1407.3 C345.0,1412.5 348.0,1419.4 350.5,1425.1 C353.0,1430.8 355.1,1435.8 357.4,1441.5 C359.7,1447.2 361.9,1452.8 364.2,1459.2 C366.5,1465.6 368.7,1474.0 371.0,1479.7 C373.3,1485.4 375.6,1488.9 377.9,1493.4 C380.2,1498.0 382.6,1502.7 384.7,1507.0 C386.8,1511.3 388.6,1515.3 390.2,1519.3 C391.8,1523.3 393.5,1529.0 394.2,1531.0" fill="none" stroke="#d4a21a" stroke-width="3.4" stroke-linejoin="round" stroke-linecap="round" />
<path d="M141.5,1316.0 C142.5,1315.6 145.2,1313.7 147.5,1313.6 C149.8,1313.5 152.1,1312.8 155.0,1315.5 C157.9,1318.2 161.7,1324.2 165.0,1329.9 C168.3,1335.6 171.9,1345.7 175.0,1349.8 C178.1,1353.9 181.2,1355.6 183.7,1354.8 C186.2,1354.0 187.3,1349.8 190.0,1344.8 C192.7,1339.8 196.7,1332.0 200.0,1324.9 C203.3,1317.8 206.6,1309.1 209.9,1302.4 C213.2,1295.7 217.0,1289.1 219.9,1284.9 C222.8,1280.7 224.9,1277.8 227.4,1277.4 C229.9,1277.0 232.4,1279.1 234.9,1282.4 C237.4,1285.7 240.3,1294.5 242.4,1297.4 C244.5,1300.3 245.3,1302.0 247.4,1299.9 C249.5,1297.8 252.4,1290.3 254.9,1284.9 C257.4,1279.5 260.1,1270.9 262.4,1267.4 C264.7,1263.9 266.4,1262.2 268.6,1263.7 C270.9,1265.2 273.7,1273.1 275.9,1276.6 C278.1,1280.0 279.4,1283.4 281.7,1284.4 C284.0,1285.4 287.2,1281.8 289.5,1282.4 C291.8,1283.1 293.4,1284.7 295.4,1288.3 C297.3,1291.9 298.9,1299.0 301.2,1303.9 C303.5,1308.8 306.4,1314.0 309.0,1317.6 C311.6,1321.2 314.9,1322.5 316.8,1325.4 C318.8,1328.3 318.5,1329.3 320.7,1335.1 C322.9,1340.9 326.9,1352.5 329.8,1360.0 C332.7,1367.5 335.9,1374.4 338.2,1380.0 C340.5,1385.6 341.6,1389.2 343.7,1393.7 C345.8,1398.2 348.7,1402.8 350.5,1407.3 C352.3,1411.8 353.2,1416.0 354.6,1421.0 C356.0,1426.0 357.1,1431.7 358.7,1437.4 C360.3,1443.1 362.4,1448.7 364.2,1455.1 C366.0,1461.5 367.9,1469.2 369.7,1475.6 C371.5,1482.0 373.3,1488.2 375.1,1493.4 C376.9,1498.6 379.0,1502.5 380.6,1507.0 C382.2,1511.5 383.6,1516.7 384.7,1520.7 C385.8,1524.7 386.9,1529.3 387.4,1531.0" fill="none" stroke="#7d4f4f" stroke-width="3.4" stroke-linejoin="round" stroke-linecap="round" />
<path d="M141.5,1265.5 C143.3,1265.0 148.6,1264.2 152.5,1262.4 C156.4,1260.6 160.4,1257.2 165.0,1254.9 C169.6,1252.6 175.0,1249.1 180.0,1248.7 C185.0,1248.3 189.5,1250.5 194.9,1252.4 C200.3,1254.3 207.0,1257.4 212.4,1259.9 C217.8,1262.4 222.8,1267.0 227.4,1267.4 C232.0,1267.8 235.7,1263.7 239.9,1262.4 C244.1,1261.2 248.2,1258.9 252.4,1259.9 C256.6,1261.0 262.0,1267.2 264.9,1268.7 C267.8,1270.2 267.5,1269.6 270.0,1268.8 C272.5,1268.0 274.9,1265.0 279.8,1263.9 C284.7,1262.8 292.8,1262.3 299.3,1262.0 C305.8,1261.7 313.0,1261.2 318.8,1262.0 C324.6,1262.8 329.5,1264.4 334.4,1266.8 C339.3,1269.2 344.1,1273.0 348.0,1276.6 C351.9,1280.2 354.5,1284.1 357.8,1288.3 C361.1,1292.5 364.7,1298.1 367.6,1302.0 C370.5,1305.9 372.8,1308.1 375.4,1311.7 C378.0,1315.3 380.6,1320.5 383.2,1323.4 C385.8,1326.3 389.2,1327.9 391.0,1329.3 C392.8,1330.7 393.2,1329.3 394.1,1332.0 C395.0,1334.7 395.7,1340.7 396.5,1345.3 C397.3,1349.9 397.6,1356.5 398.8,1359.4 C400.0,1362.3 401.9,1362.7 403.5,1362.9 C405.1,1363.1 406.8,1360.0 408.2,1360.6 C409.6,1361.2 410.8,1362.8 411.8,1366.5 C412.8,1370.2 413.1,1379.8 414.1,1382.9 C415.1,1386.0 416.6,1383.7 417.6,1385.3 C418.6,1386.9 419.0,1388.5 420.0,1392.4 C421.0,1396.3 422.3,1403.7 423.5,1408.8 C424.7,1413.9 426.5,1420.6 427.1,1422.9" fill="none" stroke="#e2333b" stroke-width="3.4" stroke-linejoin="round" stroke-linecap="round" />
<path d="M443.6,1435.8 C444.1,1435.2 445.5,1432.0 446.8,1432.0 C448.1,1432.0 449.8,1434.0 451.2,1435.8 C452.6,1437.6 454.4,1441.6 455.0,1442.8" fill="none" stroke="#e2333b" stroke-width="3.4" stroke-linejoin="round" stroke-linecap="round" />
<path d="M482.4,1475.9 C484.1,1476.9 489.6,1479.2 492.9,1481.8 C496.2,1484.3 499.2,1486.9 502.4,1491.2 C505.5,1495.5 509.1,1501.0 511.8,1507.6 C514.5,1514.2 517.6,1527.1 518.8,1531.0" fill="none" stroke="#e2333b" stroke-width="3.4" stroke-linejoin="round" stroke-linecap="round" />
<path d="M141.5,1248.0 C143.3,1247.6 148.6,1245.3 152.5,1245.4 C156.4,1245.5 161.2,1246.7 165.0,1248.7 C168.8,1250.7 171.2,1254.1 175.0,1257.4 C178.8,1260.7 183.3,1267.9 187.5,1268.7 C191.7,1269.5 195.8,1264.9 200.0,1262.4 C204.2,1259.9 207.8,1256.2 212.4,1253.7 C217.0,1251.2 223.2,1247.8 227.4,1247.4 C231.6,1247.0 233.7,1249.1 237.4,1251.2 C241.2,1253.3 246.2,1259.1 249.9,1259.9 C253.7,1260.7 256.5,1257.3 259.9,1256.2 C263.2,1255.1 266.7,1252.4 270.0,1253.2 C273.3,1254.0 276.6,1259.2 279.8,1261.0 C283.1,1262.8 286.6,1263.1 289.5,1263.9 C292.4,1264.7 294.7,1263.8 297.3,1265.9 C299.9,1268.0 302.8,1273.3 305.1,1276.6 C307.4,1279.8 308.7,1283.1 311.0,1285.4 C313.3,1287.7 316.5,1287.4 318.8,1290.2 C321.1,1293.0 322.7,1298.4 324.6,1302.0 C326.6,1305.6 328.6,1308.8 330.5,1311.7 C332.4,1314.6 334.4,1316.2 336.3,1319.5 C338.2,1322.8 340.6,1327.8 342.2,1331.2 C343.8,1334.6 343.6,1334.0 346.1,1340.0 C348.6,1346.0 354.1,1360.6 357.3,1367.3 C360.6,1374.0 362.9,1374.0 365.6,1380.0 C368.4,1386.0 371.1,1397.0 373.8,1403.2 C376.5,1409.4 379.7,1411.7 382.0,1416.9 C384.3,1422.1 386.0,1430.7 387.4,1434.6 C388.8,1438.5 388.6,1439.2 390.2,1440.1 C391.8,1441.0 395.2,1437.4 397.0,1440.1 C398.8,1442.8 399.7,1450.1 401.1,1456.5 C402.5,1462.9 403.8,1471.0 405.2,1478.3 C406.6,1485.6 407.9,1491.4 409.3,1500.2 C410.7,1509.0 412.7,1525.9 413.4,1531.0" fill="none" stroke="#2070d8" stroke-width="3.4" stroke-linejoin="round" stroke-linecap="round" />
<path d="M141.5,1209.5 C143.3,1209.8 149.0,1209.5 152.5,1211.2 C156.0,1213.0 159.6,1216.0 162.5,1220.0 C165.4,1224.0 167.5,1229.9 170.0,1234.9 C172.5,1239.9 174.8,1246.4 177.5,1249.9 C180.2,1253.5 183.7,1256.2 186.2,1256.2 C188.7,1256.2 189.7,1253.5 192.4,1249.9 C195.1,1246.4 198.7,1239.5 202.4,1234.9 C206.2,1230.3 211.2,1227.3 214.9,1222.5 C218.7,1217.7 222.0,1208.9 224.9,1206.2 C227.8,1203.5 229.9,1204.3 232.4,1206.2 C234.9,1208.1 237.4,1213.1 239.9,1217.5 C242.4,1221.9 245.3,1230.1 247.4,1232.4 C249.5,1234.7 251.6,1231.4 252.4,1231.2" fill="none" stroke="#1fbcc0" stroke-width="3.4" stroke-linejoin="round" stroke-linecap="round" />
<path d="M296.1,1233.7 C296.6,1235.3 298.1,1239.5 299.3,1243.4 C300.5,1247.3 301.9,1253.2 303.2,1257.1 C304.5,1261.0 305.2,1264.2 307.1,1266.8 C309.1,1269.4 312.6,1269.1 314.9,1272.7 C317.2,1276.3 318.8,1283.1 320.7,1288.3 C322.6,1293.5 324.3,1299.4 326.6,1303.9 C328.9,1308.5 332.1,1311.7 334.4,1315.6 C336.7,1319.5 337.9,1323.2 340.2,1327.3 C342.5,1331.4 345.6,1334.2 348.0,1340.0 C350.4,1345.8 352.6,1355.6 354.8,1362.3 C357.1,1369.0 359.0,1373.6 361.5,1380.0 C364.0,1386.4 367.9,1394.8 369.7,1400.5 C371.5,1406.2 370.6,1410.0 372.4,1414.1 C374.2,1418.2 378.3,1421.2 380.6,1425.1 C382.9,1429.0 384.7,1433.3 386.1,1437.4 C387.5,1441.5 387.5,1446.9 388.8,1449.7 C390.1,1452.5 392.6,1451.9 394.2,1454.4 C395.8,1456.9 396.9,1459.8 398.3,1464.7 C399.7,1469.6 401.0,1477.0 402.4,1483.8 C403.8,1490.6 405.4,1497.8 406.5,1505.7 C407.6,1513.6 408.8,1526.8 409.3,1531.0" fill="none" stroke="#1fbcc0" stroke-width="3.4" stroke-linejoin="round" stroke-linecap="round" />
<path d="M141.5,1101.0 C143.3,1101.2 149.0,1100.9 152.5,1102.4 C156.0,1103.9 159.6,1106.9 162.5,1110.0 C165.4,1113.1 168.8,1119.3 170.0,1121.2" fill="none" stroke="#a982de" stroke-width="3.4" stroke-linejoin="round" stroke-linecap="round" />
<path d="M209.9,1121.2 C211.6,1118.9 217.0,1110.3 219.9,1107.4 C222.8,1104.5 224.9,1103.3 227.4,1103.7 C229.9,1104.1 232.4,1106.5 234.9,1110.0 C237.4,1113.5 239.9,1121.4 242.4,1124.9 C244.9,1128.4 247.4,1131.6 249.9,1131.2 C252.4,1130.8 254.7,1125.7 257.4,1122.4 C260.1,1119.1 263.2,1111.6 266.1,1111.2 C269.0,1110.8 272.2,1116.2 274.9,1119.9 C277.6,1123.7 279.9,1130.8 282.4,1133.7 C284.9,1136.6 287.7,1136.2 289.9,1137.4 C292.1,1138.6 293.5,1138.0 295.4,1141.0 C297.3,1144.0 299.2,1150.6 301.2,1155.6 C303.1,1160.6 304.5,1167.3 307.1,1171.2 C309.7,1175.1 314.2,1175.4 316.8,1179.0 C319.4,1182.6 320.8,1187.8 322.7,1192.7 C324.6,1197.6 326.2,1203.1 328.5,1208.3 C330.8,1213.5 334.0,1219.0 336.3,1223.9 C338.6,1228.8 340.2,1233.0 342.2,1237.6 C344.1,1242.1 346.1,1246.3 348.0,1251.2 C349.9,1256.1 351.9,1261.3 353.9,1266.8 C355.9,1272.3 357.9,1278.9 359.8,1284.4 C361.8,1289.9 363.7,1294.8 365.6,1300.0 C367.6,1305.2 369.6,1310.7 371.5,1315.6 C373.4,1320.5 375.7,1325.2 377.3,1329.3 C378.9,1333.4 380.0,1337.0 381.2,1340.0 C382.4,1343.0 383.3,1344.2 384.7,1347.6 C386.1,1351.0 387.9,1357.5 389.4,1360.6 C390.9,1363.7 392.5,1362.8 393.5,1366.0 C394.5,1369.2 395.0,1373.1 395.6,1380.0 C396.2,1386.9 396.6,1398.2 397.0,1407.3 C397.4,1416.4 397.4,1428.1 398.3,1434.6 C399.2,1441.1 400.6,1444.7 402.4,1446.5 C404.2,1448.3 407.5,1444.8 409.3,1445.6 C411.1,1446.3 412.0,1447.8 413.4,1451.0 C414.8,1454.2 416.4,1459.5 417.5,1464.7 C418.6,1469.9 419.3,1476.0 420.2,1482.4 C421.1,1488.8 421.8,1497.4 422.9,1502.9 C424.0,1508.4 425.9,1510.5 427.0,1515.2 C428.1,1519.9 429.3,1528.4 429.8,1531.0" fill="none" stroke="#a982de" stroke-width="3.4" stroke-linejoin="round" stroke-linecap="round" />
</g>
<line x1="382.2" y1="1201.5" x2="288.3" y2="1243.1" stroke="#2070d8" stroke-width="3.0" stroke-linecap="round"/>
<polygon points="270.0,1251.2 287.5,1236.3 292.7,1248.2" fill="#2070d8"/>
<line x1="319.8" y1="1369.9" x2="290.7" y2="1426.4" stroke="#d4a21a" stroke-width="3.0" stroke-linecap="round"/>
<polygon points="282.4,1442.4 285.8,1421.6 297.3,1427.6" fill="#d4a21a"/>
<line x1="329.8" y1="1362.4" x2="316.4" y2="1456.8" stroke="#7d4f4f" stroke-width="3.0" stroke-linecap="round"/>
<polygon points="313.7,1475.6 310.2,1453.9 323.1,1455.7" fill="#7d4f4f"/>
<text x="167.5" y="1147.5" font-family="Liberation Sans, sans-serif" font-weight="bold" fill="#000"><tspan font-size="27.5">H</tspan><tspan font-size="18.5" dy="7.6">2</tspan><tspan font-size="27.5" dy="-7.6">O</tspan><tspan font-size="18.5" dy="-11.6">+</tspan></text>
<text x="254.3" y="1229.2" font-family="Liberation Sans, sans-serif" font-weight="bold" fill="#000"><tspan font-size="27.5">OH</tspan><tspan font-size="18.5" dy="-11.6">+</tspan></text>
<text x="381.0" y="1207.7" font-family="Liberation Sans, sans-serif" font-weight="bold" fill="#000"><tspan font-size="27.5">H</tspan><tspan font-size="18.5" dy="7.6">9</tspan><tspan font-size="27.5" dy="-7.6">O</tspan><tspan font-size="18.5" dy="7.6">4</tspan><tspan font-size="18.5" dy="-19.2">+</tspan></text>
<text x="215.4" y="1354.0" font-family="Liberation Sans, sans-serif" font-weight="bold" fill="#000"><tspan font-size="27.5">H</tspan><tspan font-size="18.5" dy="7.6">3</tspan><tspan font-size="27.5" dy="-7.6">O</tspan><tspan font-size="18.5" dy="-11.6">+</tspan></text>
<text x="241.0" y="1476.5" font-family="Liberation Sans, sans-serif" font-weight="bold" fill="#000"><tspan font-size="27.5">HeH</tspan><tspan font-size="18.5" dy="-11.6">+</tspan></text>
<text x="305.6" y="1494.7" font-family="Liberation Sans, sans-serif" font-weight="bold" fill="#000"><tspan font-size="24">H</tspan><tspan font-size="17" dy="-10.5">+</tspan></text>
<text transform="translate(436.0,1406.4) rotate(31)" font-family="Liberation Sans, sans-serif" font-weight="bold" fill="#000"><tspan font-size="27.5">H</tspan><tspan font-size="18.5" dy="7.6">13</tspan><tspan font-size="27.5" dy="-7.6">O</tspan><tspan font-size="18.5" dy="7.6">6</tspan><tspan font-size="18.5" dy="-19.2">+</tspan></text>
<text transform="translate(419.5,1438.0) rotate(31)" font-family="Liberation Sans, sans-serif" font-weight="bold" fill="#000"><tspan font-size="27.5">H</tspan><tspan font-size="18.5" dy="7.6">11</tspan><tspan font-size="27.5" dy="-7.6">O</tspan><tspan font-size="18.5" dy="7.6">5</tspan><tspan font-size="18.5" dy="-19.2">+</tspan></text>
<text x="728.3" y="1511.8" font-family="Liberation Sans, sans-serif" font-weight="bold" fill="#000"><tspan font-size="37">(c)</tspan></text>
<text transform="translate(41.4,284.4) rotate(-90)" text-anchor="middle" font-size="37.7" font-family="Liberation Sans, sans-serif" font-weight="bold" fill="#000">Density (m<tspan font-size="24.5" dy="-15.5">-3</tspan><tspan dy="15.5">)</tspan></text>
<text transform="translate(41.4,786.5) rotate(-90)" text-anchor="middle" font-size="37.7" font-family="Liberation Sans, sans-serif" font-weight="bold" fill="#000">Density (m<tspan font-size="24.5" dy="-15.5">-3</tspan><tspan dy="15.5">)</tspan></text>
<text transform="translate(41.4,1289.9) rotate(-90)" text-anchor="middle" font-size="37.7" font-family="Liberation Sans, sans-serif" font-weight="bold" fill="#000">Density (m<tspan font-size="24.5" dy="-15.5">-3</tspan><tspan dy="15.5">)</tspan></text>
<text x="197.8" y="1573.0" font-size="36.5" fill="#000" text-anchor="middle" font-family="Liberation Sans, sans-serif" font-weight="bold" >0.1</text>
<text x="394.9" y="1573.0" font-size="36.5" fill="#000" text-anchor="middle" font-family="Liberation Sans, sans-serif" font-weight="bold" >1</text>
<text x="589.8" y="1573.0" font-size="36.5" fill="#000" text-anchor="middle" font-family="Liberation Sans, sans-serif" font-weight="bold" >10</text>
<text x="784.7" y="1573.0" font-size="36.5" fill="#000" text-anchor="middle" font-family="Liberation Sans, sans-serif" font-weight="bold" >100</text>
<rect x="370" y="1569" width="175" height="47" fill="#fff"/>
<text x="376.0" y="1601.2" font-size="37.4" fill="#000" text-anchor="start" font-family="Liberation Sans, sans-serif" font-weight="bold" >Time (μs)</text>
</svg></body></html>
